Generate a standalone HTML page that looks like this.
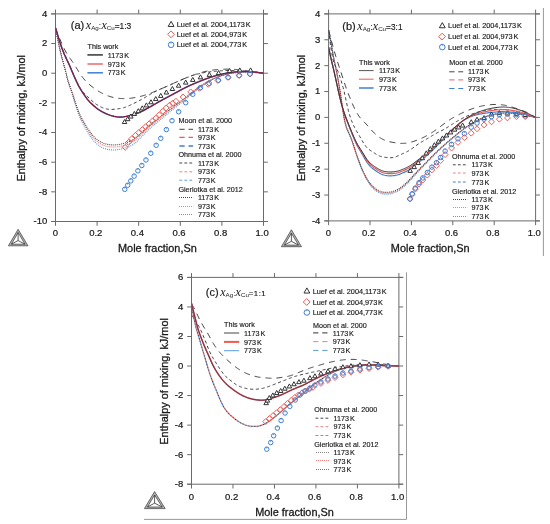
<!DOCTYPE html>
<html><head><meta charset="utf-8"><style>
html,body{margin:0;padding:0;background:#fff;}
svg{display:block;filter:blur(0.3px);}
text{font-family:"Liberation Sans", sans-serif;}
</style></head><body>
<svg width="550" height="524" viewBox="0 0 550 524" font-family='"Liberation Sans", sans-serif'>
<rect width="550" height="524" fill="#fff"/>
<clipPath id="ca"><rect x="55.5" y="13.9" width="208" height="207.6"/></clipPath>
<path d="M51.20,13.90H267.80M51.20,221.50H267.80M55.50,9.60V225.80M263.50,9.60V225.80" stroke="#6a6a6a" stroke-width="1" fill="none"/>
<path d="M97.10,9.60V13.90M97.10,221.50V225.80M138.70,9.60V13.90M138.70,221.50V225.80M180.30,9.60V13.90M180.30,221.50V225.80M221.90,9.60V13.90M221.90,221.50V225.80M51.20,221.50H55.50M263.50,221.50H267.80M51.20,191.84H55.50M263.50,191.84H267.80M51.20,162.19H55.50M263.50,162.19H267.80M51.20,132.53H55.50M263.50,132.53H267.80M51.20,102.87H55.50M263.50,102.87H267.80M51.20,73.21H55.50M263.50,73.21H267.80M51.20,43.56H55.50M263.50,43.56H267.80M51.20,13.90H55.50M263.50,13.90H267.80" stroke="#6a6a6a" stroke-width="1" fill="none"/>
<text x="55.30" y="235.90" font-size="9.5" text-anchor="middle" fill="#1a1a1a" stroke="#1a1a1a" stroke-width="0.22" >0</text>
<text x="95.80" y="235.90" font-size="9.5" text-anchor="middle" fill="#1a1a1a" stroke="#1a1a1a" stroke-width="0.22" >0.2</text>
<text x="137.40" y="235.90" font-size="9.5" text-anchor="middle" fill="#1a1a1a" stroke="#1a1a1a" stroke-width="0.22" >0.4</text>
<text x="179.00" y="235.90" font-size="9.5" text-anchor="middle" fill="#1a1a1a" stroke="#1a1a1a" stroke-width="0.22" >0.6</text>
<text x="220.60" y="235.90" font-size="9.5" text-anchor="middle" fill="#1a1a1a" stroke="#1a1a1a" stroke-width="0.22" >0.8</text>
<text x="262.20" y="235.90" font-size="9.5" text-anchor="middle" fill="#1a1a1a" stroke="#1a1a1a" stroke-width="0.22" >1.0</text>
<text x="47.30" y="224.40" font-size="9.5" text-anchor="end" fill="#1a1a1a" stroke="#1a1a1a" stroke-width="0.22" >-10</text>
<text x="47.30" y="194.74" font-size="9.5" text-anchor="end" fill="#1a1a1a" stroke="#1a1a1a" stroke-width="0.22" >-8</text>
<text x="47.30" y="165.09" font-size="9.5" text-anchor="end" fill="#1a1a1a" stroke="#1a1a1a" stroke-width="0.22" >-6</text>
<text x="47.30" y="135.43" font-size="9.5" text-anchor="end" fill="#1a1a1a" stroke="#1a1a1a" stroke-width="0.22" >-4</text>
<text x="47.30" y="105.77" font-size="9.5" text-anchor="end" fill="#1a1a1a" stroke="#1a1a1a" stroke-width="0.22" >-2</text>
<text x="47.30" y="76.11" font-size="9.5" text-anchor="end" fill="#1a1a1a" stroke="#1a1a1a" stroke-width="0.22" >0</text>
<text x="47.30" y="46.46" font-size="9.5" text-anchor="end" fill="#1a1a1a" stroke="#1a1a1a" stroke-width="0.22" >2</text>
<text x="47.30" y="16.80" font-size="9.5" text-anchor="end" fill="#1a1a1a" stroke="#1a1a1a" stroke-width="0.22" >4</text>
<text x="157.40" y="252.20" font-size="10.9" text-anchor="middle" fill="#1a1a1a" stroke="#1a1a1a" stroke-width="0.3" >Mole fraction,Sn</text>
<text transform="translate(24.90,118.30) rotate(-90)" x="0" y="0" font-size="10.9" text-anchor="middle" fill="#1a1a1a" stroke="#1a1a1a" stroke-width="0.3">Enthalpy of mixing, kJ/mol</text>
<text x="70.80" y="28.60" font-size="11" fill="#1a1a1a" stroke="#1a1a1a" stroke-width="0"><tspan stroke-width="0.2">(a)</tspan><tspan font-family="Liberation Serif" font-style="italic" font-size="12" dx="1.6" stroke-width="0">x</tspan><tspan font-size="6.2" dy="0.9">Ag</tspan><tspan font-size="8.4" dy="-0.9">:</tspan><tspan font-family="Liberation Serif" font-style="italic" font-size="12" dx="0.3" stroke-width="0">x</tspan><tspan font-size="6.2" dy="0.9">Cu</tspan><tspan font-size="8.4" dy="-0.9" stroke-width="0.15" letter-spacing="0">=1:3</tspan></text>
<g clip-path="url(#ca)">
<path d="M55.50,27.99 56.55,33.26 57.59,38.47 58.64,43.53 59.68,48.37 60.73,52.92 61.77,57.12 62.82,61.02 63.86,64.76 64.91,68.59 65.95,72.85 67.00,77.45 68.04,81.44 69.09,84.70 70.13,87.71 71.18,90.85 72.22,94.13 73.27,97.52 74.31,100.95 75.36,104.36 76.40,107.70 77.45,110.91 78.49,113.90 79.54,116.62 80.59,119.05 81.63,121.26 82.68,123.32 83.72,125.29 84.77,127.22 85.81,129.11 86.86,130.95 87.90,132.72 88.95,134.42 89.99,136.02 91.04,137.52 92.08,138.90 93.13,140.18 94.17,141.36 95.22,142.44 96.26,143.43 97.31,144.33 98.35,145.15 99.40,145.88 100.44,146.55 101.49,147.14 102.54,147.66 103.58,148.12 104.63,148.52 105.67,148.86 106.72,149.15 107.76,149.39 108.81,149.58 109.85,149.73 110.90,149.84 111.94,149.91 112.99,149.95 114.03,149.95 115.08,149.91 116.12,149.84 117.17,149.73 118.21,149.58 119.26,149.40 120.30,149.18 121.35,148.94 122.39,148.66 123.44,148.36 124.48,148.04 125.53,147.70 126.58,147.35 127.62,146.98 128.67,146.58 129.71,146.14 130.76,145.66 131.80,145.13 132.85,144.52 133.89,143.84 134.94,143.07 135.98,142.23 137.03,141.31 138.07,140.35 139.12,139.33 140.16,138.29 141.21,137.21 142.25,136.13 143.30,135.04 144.34,133.95 145.39,132.89 146.43,131.85 147.48,130.84 148.53,129.86 149.57,128.90 150.62,127.96 151.66,127.04 152.71,126.13 153.75,125.24 154.80,124.36 155.84,123.49 156.89,122.62 157.93,121.76 158.98,120.90 160.02,120.04 161.07,119.18 162.11,118.31 163.16,117.45 164.20,116.59 165.25,115.73 166.29,114.86 167.34,114.00 168.38,113.14 169.43,112.29 170.47,111.44 171.52,110.59 172.57,109.74 173.61,108.90 174.66,108.06 175.70,107.22 176.75,106.38 177.79,105.55 178.84,104.71 179.88,103.87 180.93,103.03 181.97,102.18 183.02,101.33 184.06,100.48 185.11,99.62 186.15,98.75 187.20,97.87 188.24,96.99 189.29,96.10 190.33,95.22 191.38,94.33 192.42,93.45 193.47,92.57 194.52,91.70 195.56,90.84 196.61,90.00 197.65,89.17 198.70,88.35 199.74,87.56 200.79,86.78 201.83,86.03 202.88,85.29 203.92,84.57 204.97,83.88 206.01,83.20 207.06,82.55 208.10,81.91 209.15,81.30 210.19,80.71 211.24,80.15 212.28,79.61 213.33,79.08 214.37,78.59 215.42,78.11 216.46,77.65 217.51,77.21 218.56,76.80 219.60,76.40 220.65,76.02 221.69,75.66 222.74,75.32 223.78,75.00 224.83,74.70 225.87,74.42 226.92,74.15 227.96,73.91 229.01,73.68 230.05,73.46 231.10,73.27 232.14,73.09 233.19,72.93 234.23,72.79 235.28,72.66 236.32,72.55 237.37,72.45 238.41,72.37 239.46,72.31 240.51,72.25 241.55,72.21 242.60,72.18 243.64,72.16 244.69,72.16 245.73,72.16 246.78,72.17 247.82,72.20 248.87,72.23 249.91,72.27 250.96,72.31 252.00,72.36 253.05,72.42 254.09,72.48 255.14,72.55 256.18,72.63 257.23,72.70 258.27,72.78 259.32,72.87 260.36,72.95 261.41,73.04 262.45,73.13 263.50,73.21" fill="none" stroke="#3f7fd6" stroke-width="1.1" stroke-dasharray="1 1" stroke-linecap="butt" opacity="0.85"/>
<path d="M55.50,27.99 56.55,33.27 57.59,38.48 58.64,43.54 59.68,48.38 60.73,52.92 61.77,57.11 62.82,61.01 63.86,64.77 64.91,68.62 65.95,72.83 67.00,77.29 68.04,81.14 69.09,84.27 70.13,87.16 71.18,90.18 72.22,93.35 73.27,96.61 74.31,99.91 75.36,103.20 76.40,106.42 77.45,109.50 78.49,112.38 79.54,114.99 80.59,117.34 81.63,119.47 82.68,121.45 83.72,123.34 84.77,125.20 85.81,127.02 86.86,128.79 87.90,130.50 88.95,132.13 89.99,133.67 91.04,135.11 92.08,136.45 93.13,137.68 94.17,138.81 95.22,139.85 96.26,140.80 97.31,141.67 98.35,142.46 99.40,143.17 100.44,143.80 101.49,144.37 102.54,144.88 103.58,145.32 104.63,145.70 105.67,146.03 106.72,146.31 107.76,146.54 108.81,146.72 109.85,146.87 110.90,146.97 111.94,147.04 112.99,147.08 114.03,147.08 115.08,147.04 116.12,146.97 117.17,146.87 118.21,146.73 119.26,146.55 120.30,146.34 121.35,146.11 122.39,145.84 123.44,145.55 124.48,145.24 125.53,144.92 126.58,144.58 127.62,144.22 128.67,143.84 129.71,143.42 130.76,142.96 131.80,142.44 132.85,141.85 133.89,141.20 134.94,140.46 135.98,139.65 137.03,138.77 138.07,137.84 139.12,136.86 140.16,135.85 141.21,134.82 142.25,133.77 143.30,132.73 144.34,131.68 145.39,130.66 146.43,129.66 147.48,128.69 148.53,127.74 149.57,126.82 150.62,125.91 151.66,125.03 152.71,124.16 153.75,123.30 154.80,122.45 155.84,121.61 156.89,120.78 157.93,119.95 158.98,119.12 160.02,118.29 161.07,117.46 162.11,116.63 163.16,115.80 164.20,114.97 165.25,114.14 166.29,113.31 167.34,112.48 168.38,111.65 169.43,110.83 170.47,110.01 171.52,109.19 172.57,108.37 173.61,107.56 174.66,106.75 175.70,105.95 176.75,105.14 177.79,104.34 178.84,103.53 179.88,102.72 180.93,101.91 181.97,101.10 183.02,100.28 184.06,99.46 185.11,98.63 186.15,97.80 187.20,96.95 188.24,96.10 189.29,95.25 190.33,94.39 191.38,93.54 192.42,92.69 193.47,91.85 194.52,91.01 195.56,90.18 196.61,89.37 197.65,88.57 198.70,87.79 199.74,87.02 200.79,86.28 201.83,85.55 202.88,84.84 203.92,84.15 204.97,83.48 206.01,82.83 207.06,82.20 208.10,81.59 209.15,81.00 210.19,80.43 211.24,79.89 212.28,79.37 213.33,78.87 214.37,78.39 215.42,77.92 216.46,77.48 217.51,77.06 218.56,76.66 219.60,76.28 220.65,75.92 221.69,75.57 222.74,75.25 223.78,74.94 224.83,74.64 225.87,74.37 226.92,74.11 227.96,73.88 229.01,73.65 230.05,73.45 231.10,73.26 232.14,73.09 233.19,72.93 234.23,72.79 235.28,72.66 236.32,72.55 237.37,72.46 238.41,72.38 239.46,72.31 240.51,72.26 241.55,72.22 242.60,72.19 243.64,72.17 244.69,72.16 245.73,72.16 246.78,72.17 247.82,72.20 248.87,72.23 249.91,72.26 250.96,72.31 252.00,72.36 253.05,72.42 254.09,72.48 255.14,72.55 256.18,72.62 257.23,72.70 258.27,72.78 259.32,72.86 260.36,72.95 261.41,73.04 262.45,73.13 263.50,73.21" fill="none" stroke="#ee5a52" stroke-width="1.1" stroke-dasharray="1 1" stroke-linecap="butt" opacity="0.85"/>
<path d="M55.50,27.99 56.55,33.27 57.59,38.48 58.64,43.54 59.68,48.38 60.73,52.93 61.77,57.11 62.82,61.01 63.86,64.78 64.91,68.64 65.95,72.81 67.00,77.17 68.04,80.91 69.09,83.95 70.13,86.76 71.18,89.69 72.22,92.76 73.27,95.93 74.31,99.13 75.36,102.32 76.40,105.45 77.45,108.44 78.49,111.24 79.54,113.78 80.59,116.05 81.63,118.12 82.68,120.05 83.72,121.88 84.77,123.69 85.81,125.45 86.86,127.17 87.90,128.83 88.95,130.41 89.99,131.91 91.04,133.31 92.08,134.60 93.13,135.80 94.17,136.90 95.22,137.91 96.26,138.83 97.31,139.68 98.35,140.44 99.40,141.13 100.44,141.75 101.49,142.30 102.54,142.79 103.58,143.22 104.63,143.59 105.67,143.91 106.72,144.18 107.76,144.40 108.81,144.58 109.85,144.72 110.90,144.83 111.94,144.89 112.99,144.93 114.03,144.93 115.08,144.89 116.12,144.82 117.17,144.72 118.21,144.59 119.26,144.42 120.30,144.21 121.35,143.98 122.39,143.73 123.44,143.45 124.48,143.15 125.53,142.83 126.58,142.50 127.62,142.15 128.67,141.78 129.71,141.37 130.76,140.92 131.80,140.42 132.85,139.86 133.89,139.22 134.94,138.50 135.98,137.71 137.03,136.86 138.07,135.96 139.12,135.01 140.16,134.03 141.21,133.03 142.25,132.01 143.30,130.99 144.34,129.98 145.39,128.99 146.43,128.02 147.48,127.07 148.53,126.15 149.57,125.26 150.62,124.38 151.66,123.52 152.71,122.67 153.75,121.84 154.80,121.02 155.84,120.20 156.89,119.39 157.93,118.59 158.98,117.78 160.02,116.98 161.07,116.17 162.11,115.36 163.16,114.56 164.20,113.75 165.25,112.94 166.29,112.14 167.34,111.33 168.38,110.53 169.43,109.73 170.47,108.94 171.52,108.14 172.57,107.35 173.61,106.56 174.66,105.78 175.70,104.99 176.75,104.21 177.79,103.43 178.84,102.65 179.88,101.86 180.93,101.08 181.97,100.29 183.02,99.49 184.06,98.70 185.11,97.89 186.15,97.08 187.20,96.26 188.24,95.44 189.29,94.61 190.33,93.78 191.38,92.95 192.42,92.12 193.47,91.30 194.52,90.49 195.56,89.69 196.61,88.90 197.65,88.12 198.70,87.36 199.74,86.62 200.79,85.90 201.83,85.19 202.88,84.50 203.92,83.83 204.97,83.18 206.01,82.55 207.06,81.94 208.10,81.34 209.15,80.77 210.19,80.22 211.24,79.70 212.28,79.19 213.33,78.70 214.37,78.24 215.42,77.79 216.46,77.36 217.51,76.95 218.56,76.56 219.60,76.19 220.65,75.84 221.69,75.50 222.74,75.19 223.78,74.89 224.83,74.60 225.87,74.34 226.92,74.09 227.96,73.85 229.01,73.63 230.05,73.43 231.10,73.25 232.14,73.08 233.19,72.93 234.23,72.79 235.28,72.66 236.32,72.56 237.37,72.46 238.41,72.38 239.46,72.32 240.51,72.26 241.55,72.22 242.60,72.19 243.64,72.17 244.69,72.16 245.73,72.16 246.78,72.17 247.82,72.20 248.87,72.22 249.91,72.26 250.96,72.31 252.00,72.36 253.05,72.42 254.09,72.48 255.14,72.55 256.18,72.62 257.23,72.70 258.27,72.78 259.32,72.86 260.36,72.95 261.41,73.04 262.45,73.13 263.50,73.21" fill="none" stroke="#444" stroke-width="1.1" stroke-dasharray="1 1" stroke-linecap="butt" opacity="1"/>
<path d="M55.50,27.99 56.55,31.28 57.59,34.54 58.64,37.75 59.68,40.89 60.73,43.92 61.77,46.83 62.82,49.58 63.86,52.17 64.91,54.63 65.95,57.00 67.00,59.32 68.04,61.64 69.09,64.00 70.13,66.43 71.18,68.92 72.22,71.43 73.27,73.93 74.31,76.37 75.36,78.74 76.40,81.01 77.45,83.14 78.49,85.13 79.54,86.94 80.59,88.59 81.63,90.09 82.68,91.46 83.72,92.71 84.77,93.87 85.81,94.94 86.86,95.97 87.90,96.96 88.95,97.94 89.99,98.93 91.04,99.91 92.08,100.88 93.13,101.81 94.17,102.69 95.22,103.51 96.26,104.27 97.31,104.96 98.35,105.60 99.40,106.19 100.44,106.74 101.49,107.23 102.54,107.69 103.58,108.10 104.63,108.45 105.67,108.76 106.72,109.00 107.76,109.20 108.81,109.33 109.85,109.40 110.90,109.42 111.94,109.41 112.99,109.35 114.03,109.27 115.08,109.16 116.12,109.04 117.17,108.91 118.21,108.78 119.26,108.63 120.30,108.47 121.35,108.28 122.39,108.06 123.44,107.80 124.48,107.49 125.53,107.13 126.58,106.73 127.62,106.30 128.67,105.84 129.71,105.36 130.76,104.88 131.80,104.39 132.85,103.89 133.89,103.39 134.94,102.88 135.98,102.37 137.03,101.84 138.07,101.31 139.12,100.76 140.16,100.21 141.21,99.64 142.25,99.06 143.30,98.47 144.34,97.87 145.39,97.25 146.43,96.63 147.48,96.01 148.53,95.39 149.57,94.76 150.62,94.15 151.66,93.54 152.71,92.94 153.75,92.36 154.80,91.79 155.84,91.24 156.89,90.71 157.93,90.21 158.98,89.72 160.02,89.26 161.07,88.81 162.11,88.36 163.16,87.93 164.20,87.50 165.25,87.07 166.29,86.64 167.34,86.20 168.38,85.75 169.43,85.30 170.47,84.83 171.52,84.36 172.57,83.88 173.61,83.40 174.66,82.92 175.70,82.43 176.75,81.95 177.79,81.47 178.84,80.99 179.88,80.52 180.93,80.05 181.97,79.60 183.02,79.15 184.06,78.72 185.11,78.29 186.15,77.87 187.20,77.47 188.24,77.07 189.29,76.68 190.33,76.31 191.38,75.95 192.42,75.59 193.47,75.26 194.52,74.93 195.56,74.62 196.61,74.32 197.65,74.04 198.70,73.77 199.74,73.52 200.79,73.28 201.83,73.06 202.88,72.86 203.92,72.67 204.97,72.50 206.01,72.34 207.06,72.19 208.10,72.05 209.15,71.91 210.19,71.79 211.24,71.68 212.28,71.57 213.33,71.46 214.37,71.36 215.42,71.26 216.46,71.16 217.51,71.07 218.56,70.98 219.60,70.90 220.65,70.83 221.69,70.76 222.74,70.70 223.78,70.64 224.83,70.59 225.87,70.55 226.92,70.52 227.96,70.50 229.01,70.48 230.05,70.47 231.10,70.48 232.14,70.48 233.19,70.50 234.23,70.52 235.28,70.55 236.32,70.59 237.37,70.64 238.41,70.69 239.46,70.74 240.51,70.81 241.55,70.88 242.60,70.95 243.64,71.03 244.69,71.12 245.73,71.21 246.78,71.31 247.82,71.40 248.87,71.51 249.91,71.61 250.96,71.72 252.00,71.84 253.05,71.95 254.09,72.07 255.14,72.19 256.18,72.32 257.23,72.44 258.27,72.57 259.32,72.70 260.36,72.82 261.41,72.95 262.45,73.08 263.50,73.21" fill="none" stroke="#444" stroke-width="1.0" stroke-dasharray="3.2 2.6" stroke-linecap="butt" opacity="1"/>
<path d="M55.50,27.99 56.55,30.67 57.59,33.34 58.64,35.97 59.68,38.55 60.73,41.07 61.77,43.50 62.82,45.83 63.86,48.03 64.91,50.11 65.95,52.03 67.00,53.79 68.04,55.43 69.09,56.98 70.13,58.47 71.18,59.93 72.22,61.39 73.27,62.89 74.31,64.46 75.36,66.12 76.40,67.83 77.45,69.57 78.49,71.30 79.54,72.98 80.59,74.59 81.63,76.08 82.68,77.48 83.72,78.78 84.77,79.99 85.81,81.12 86.86,82.18 87.90,83.18 88.95,84.12 89.99,85.02 91.04,85.88 92.08,86.70 93.13,87.50 94.17,88.28 95.22,89.02 96.26,89.74 97.31,90.44 98.35,91.11 99.40,91.74 100.44,92.35 101.49,92.93 102.54,93.48 103.58,94.00 104.63,94.49 105.67,94.95 106.72,95.38 107.76,95.78 108.81,96.15 109.85,96.49 110.90,96.81 111.94,97.10 112.99,97.36 114.03,97.59 115.08,97.80 116.12,97.99 117.17,98.15 118.21,98.29 119.26,98.40 120.30,98.48 121.35,98.55 122.39,98.59 123.44,98.61 124.48,98.61 125.53,98.58 126.58,98.54 127.62,98.48 128.67,98.40 129.71,98.30 130.76,98.19 131.80,98.06 132.85,97.92 133.89,97.76 134.94,97.58 135.98,97.39 137.03,97.19 138.07,96.96 139.12,96.73 140.16,96.48 141.21,96.21 142.25,95.92 143.30,95.63 144.34,95.31 145.39,94.99 146.43,94.64 147.48,94.29 148.53,93.92 149.57,93.55 150.62,93.16 151.66,92.76 152.71,92.35 153.75,91.93 154.80,91.51 155.84,91.08 156.89,90.64 157.93,90.20 158.98,89.75 160.02,89.30 161.07,88.84 162.11,88.39 163.16,87.92 164.20,87.46 165.25,86.99 166.29,86.53 167.34,86.06 168.38,85.59 169.43,85.12 170.47,84.65 171.52,84.18 172.57,83.71 173.61,83.24 174.66,82.77 175.70,82.31 176.75,81.84 177.79,81.38 178.84,80.92 179.88,80.47 180.93,80.02 181.97,79.57 183.02,79.13 184.06,78.69 185.11,78.26 186.15,77.83 187.20,77.41 188.24,77.00 189.29,76.59 190.33,76.19 191.38,75.80 192.42,75.42 193.47,75.04 194.52,74.68 195.56,74.32 196.61,73.97 197.65,73.64 198.70,73.31 199.74,72.99 200.79,72.69 201.83,72.39 202.88,72.11 203.92,71.84 204.97,71.58 206.01,71.33 207.06,71.10 208.10,70.88 209.15,70.67 210.19,70.48 211.24,70.30 212.28,70.13 213.33,69.99 214.37,69.85 215.42,69.73 216.46,69.63 217.51,69.54 218.56,69.46 219.60,69.39 220.65,69.34 221.69,69.29 222.74,69.25 223.78,69.22 224.83,69.19 225.87,69.17 226.92,69.16 227.96,69.15 229.01,69.16 230.05,69.17 231.10,69.20 232.14,69.24 233.19,69.29 234.23,69.35 235.28,69.43 236.32,69.51 237.37,69.61 238.41,69.73 239.46,69.84 240.51,69.97 241.55,70.11 242.60,70.24 243.64,70.39 244.69,70.53 245.73,70.68 246.78,70.83 247.82,70.97 248.87,71.12 249.91,71.27 250.96,71.42 252.00,71.57 253.05,71.72 254.09,71.87 255.14,72.02 256.18,72.17 257.23,72.32 258.27,72.47 259.32,72.62 260.36,72.77 261.41,72.92 262.45,73.07 263.50,73.21" fill="none" stroke="#444" stroke-width="1.0" stroke-dasharray="6 5" stroke-linecap="butt" opacity="1"/>
<path d="M55.50,27.99 56.55,31.46 57.59,34.91 58.64,38.30 59.68,41.58 60.73,44.75 61.77,47.76 62.82,50.57 63.86,53.19 64.91,55.63 65.95,57.90 67.00,60.07 68.04,62.22 69.09,64.45 70.13,66.85 71.18,69.35 72.22,71.88 73.27,74.34 74.31,76.72 75.36,79.05 76.40,81.32 77.45,83.52 78.49,85.60 79.54,87.53 80.59,89.30 81.63,90.96 82.68,92.57 83.72,94.15 84.77,95.68 85.81,97.16 86.86,98.56 87.90,99.88 88.95,101.11 89.99,102.24 91.04,103.30 92.08,104.28 93.13,105.23 94.17,106.14 95.22,107.02 96.26,107.87 97.31,108.66 98.35,109.40 99.40,110.10 100.44,110.75 101.49,111.37 102.54,111.95 103.58,112.49 104.63,113.01 105.67,113.50 106.72,113.95 107.76,114.38 108.81,114.78 109.85,115.15 110.90,115.49 111.94,115.80 112.99,116.08 114.03,116.34 115.08,116.56 116.12,116.76 117.17,116.91 118.21,117.02 119.26,117.09 120.30,117.11 121.35,117.07 122.39,116.99 123.44,116.86 124.48,116.70 125.53,116.51 126.58,116.29 127.62,116.04 128.67,115.78 129.71,115.51 130.76,115.22 131.80,114.92 132.85,114.62 133.89,114.32 134.94,114.01 135.98,113.68 137.03,113.33 138.07,112.96 139.12,112.56 140.16,112.12 141.21,111.64 142.25,111.13 143.30,110.60 144.34,110.04 145.39,109.47 146.43,108.90 147.48,108.32 148.53,107.74 149.57,107.15 150.62,106.57 151.66,105.98 152.71,105.38 153.75,104.78 154.80,104.18 155.84,103.58 156.89,102.97 157.93,102.37 158.98,101.77 160.02,101.18 161.07,100.60 162.11,100.03 163.16,99.46 164.20,98.90 165.25,98.35 166.29,97.79 167.34,97.24 168.38,96.68 169.43,96.12 170.47,95.57 171.52,95.01 172.57,94.44 173.61,93.88 174.66,93.31 175.70,92.75 176.75,92.18 177.79,91.61 178.84,91.05 179.88,90.49 180.93,89.93 181.97,89.38 183.02,88.84 184.06,88.30 185.11,87.77 186.15,87.25 187.20,86.74 188.24,86.24 189.29,85.76 190.33,85.28 191.38,84.81 192.42,84.35 193.47,83.90 194.52,83.46 195.56,83.02 196.61,82.59 197.65,82.16 198.70,81.74 199.74,81.31 200.79,80.90 201.83,80.48 202.88,80.07 203.92,79.67 204.97,79.27 206.01,78.89 207.06,78.50 208.10,78.13 209.15,77.76 210.19,77.41 211.24,77.06 212.28,76.72 213.33,76.40 214.37,76.08 215.42,75.77 216.46,75.47 217.51,75.19 218.56,74.91 219.60,74.65 220.65,74.40 221.69,74.15 222.74,73.92 223.78,73.70 224.83,73.49 225.87,73.29 226.92,73.10 227.96,72.92 229.01,72.75 230.05,72.59 231.10,72.44 232.14,72.29 233.19,72.16 234.23,72.03 235.28,71.91 236.32,71.81 237.37,71.72 238.41,71.63 239.46,71.56 240.51,71.51 241.55,71.47 242.60,71.44 243.64,71.42 244.69,71.42 245.73,71.44 246.78,71.46 247.82,71.50 248.87,71.55 249.91,71.62 250.96,71.69 252.00,71.78 253.05,71.87 254.09,71.98 255.14,72.10 256.18,72.22 257.23,72.35 258.27,72.48 259.32,72.62 260.36,72.77 261.41,72.91 262.45,73.06 263.50,73.21" fill="none" stroke="#3f7fd6" stroke-width="1.5" stroke-linecap="butt" opacity="1"/>
<path d="M55.50,27.99 56.55,31.46 57.59,34.91 58.64,38.30 59.68,41.58 60.73,44.75 61.77,47.76 62.82,50.57 63.86,53.19 64.91,55.63 65.95,57.90 67.00,60.07 68.04,62.22 69.09,64.45 70.13,66.85 71.18,69.35 72.22,71.88 73.27,74.34 74.31,76.72 75.36,79.05 76.40,81.32 77.45,83.52 78.49,85.60 79.54,87.53 80.59,89.30 81.63,90.96 82.68,92.57 83.72,94.15 84.77,95.68 85.81,97.16 86.86,98.56 87.90,99.88 88.95,101.11 89.99,102.24 91.04,103.30 92.08,104.28 93.13,105.23 94.17,106.14 95.22,107.02 96.26,107.87 97.31,108.66 98.35,109.40 99.40,110.10 100.44,110.75 101.49,111.37 102.54,111.95 103.58,112.49 104.63,113.01 105.67,113.50 106.72,113.95 107.76,114.38 108.81,114.78 109.85,115.15 110.90,115.49 111.94,115.80 112.99,116.08 114.03,116.34 115.08,116.56 116.12,116.76 117.17,116.91 118.21,117.02 119.26,117.09 120.30,117.11 121.35,117.07 122.39,116.99 123.44,116.86 124.48,116.70 125.53,116.51 126.58,116.29 127.62,116.04 128.67,115.78 129.71,115.51 130.76,115.22 131.80,114.92 132.85,114.62 133.89,114.32 134.94,114.01 135.98,113.68 137.03,113.33 138.07,112.96 139.12,112.56 140.16,112.12 141.21,111.64 142.25,111.13 143.30,110.60 144.34,110.04 145.39,109.47 146.43,108.90 147.48,108.32 148.53,107.74 149.57,107.15 150.62,106.57 151.66,105.98 152.71,105.38 153.75,104.78 154.80,104.18 155.84,103.58 156.89,102.97 157.93,102.37 158.98,101.77 160.02,101.18 161.07,100.60 162.11,100.03 163.16,99.46 164.20,98.90 165.25,98.35 166.29,97.79 167.34,97.24 168.38,96.68 169.43,96.12 170.47,95.57 171.52,95.01 172.57,94.44 173.61,93.88 174.66,93.31 175.70,92.75 176.75,92.18 177.79,91.61 178.84,91.05 179.88,90.49 180.93,89.93 181.97,89.38 183.02,88.84 184.06,88.30 185.11,87.77 186.15,87.25 187.20,86.74 188.24,86.24 189.29,85.76 190.33,85.28 191.38,84.81 192.42,84.35 193.47,83.90 194.52,83.46 195.56,83.02 196.61,82.59 197.65,82.16 198.70,81.74 199.74,81.31 200.79,80.90 201.83,80.48 202.88,80.07 203.92,79.67 204.97,79.27 206.01,78.89 207.06,78.50 208.10,78.13 209.15,77.76 210.19,77.41 211.24,77.06 212.28,76.72 213.33,76.40 214.37,76.08 215.42,75.77 216.46,75.47 217.51,75.19 218.56,74.91 219.60,74.65 220.65,74.40 221.69,74.15 222.74,73.92 223.78,73.70 224.83,73.49 225.87,73.29 226.92,73.10 227.96,72.92 229.01,72.75 230.05,72.59 231.10,72.44 232.14,72.29 233.19,72.16 234.23,72.03 235.28,71.91 236.32,71.81 237.37,71.72 238.41,71.63 239.46,71.56 240.51,71.51 241.55,71.47 242.60,71.44 243.64,71.42 244.69,71.42 245.73,71.44 246.78,71.46 247.82,71.50 248.87,71.55 249.91,71.62 250.96,71.69 252.00,71.78 253.05,71.87 254.09,71.98 255.14,72.10 256.18,72.22 257.23,72.35 258.27,72.48 259.32,72.62 260.36,72.77 261.41,72.91 262.45,73.06 263.50,73.21" fill="none" stroke="#8a1a3a" stroke-width="1.2" stroke-linecap="butt" opacity="1"/>
</g>
<path d="M124.56,119.50L126.84,123.54H122.28Z" fill="#fff" fill-opacity="0.85" stroke="#333" stroke-width="1.0" stroke-linejoin="round"/>
<path d="M127.68,116.63L129.96,120.67H125.40Z" fill="#fff" fill-opacity="0.85" stroke="#333" stroke-width="1.0" stroke-linejoin="round"/>
<path d="M130.80,114.02L133.08,118.06H128.52Z" fill="#fff" fill-opacity="0.85" stroke="#333" stroke-width="1.0" stroke-linejoin="round"/>
<path d="M134.33,111.42L136.61,115.46H132.05Z" fill="#fff" fill-opacity="0.85" stroke="#333" stroke-width="1.0" stroke-linejoin="round"/>
<path d="M138.28,108.68L140.56,112.72H136.00Z" fill="#fff" fill-opacity="0.85" stroke="#333" stroke-width="1.0" stroke-linejoin="round"/>
<path d="M142.24,105.84L144.52,109.89H139.96Z" fill="#fff" fill-opacity="0.85" stroke="#333" stroke-width="1.0" stroke-linejoin="round"/>
<path d="M146.40,102.89L148.68,106.94H144.12Z" fill="#fff" fill-opacity="0.85" stroke="#333" stroke-width="1.0" stroke-linejoin="round"/>
<path d="M150.97,99.72L153.25,103.76H148.69Z" fill="#fff" fill-opacity="0.85" stroke="#333" stroke-width="1.0" stroke-linejoin="round"/>
<path d="M155.76,96.52L158.04,100.56H153.48Z" fill="#fff" fill-opacity="0.85" stroke="#333" stroke-width="1.0" stroke-linejoin="round"/>
<path d="M160.75,93.36L163.03,97.41H158.47Z" fill="#fff" fill-opacity="0.85" stroke="#333" stroke-width="1.0" stroke-linejoin="round"/>
<path d="M166.36,89.99L168.64,94.04H164.08Z" fill="#fff" fill-opacity="0.85" stroke="#333" stroke-width="1.0" stroke-linejoin="round"/>
<path d="M172.40,86.47L174.68,90.51H170.12Z" fill="#fff" fill-opacity="0.85" stroke="#333" stroke-width="1.0" stroke-linejoin="round"/>
<path d="M178.64,83.17L180.92,87.21H176.36Z" fill="#fff" fill-opacity="0.85" stroke="#333" stroke-width="1.0" stroke-linejoin="round"/>
<path d="M185.71,80.06L187.99,84.10H183.43Z" fill="#fff" fill-opacity="0.85" stroke="#333" stroke-width="1.0" stroke-linejoin="round"/>
<path d="M192.78,77.39L195.06,81.43H190.50Z" fill="#fff" fill-opacity="0.85" stroke="#333" stroke-width="1.0" stroke-linejoin="round"/>
<path d="M200.48,74.82L202.76,78.86H198.20Z" fill="#fff" fill-opacity="0.85" stroke="#333" stroke-width="1.0" stroke-linejoin="round"/>
<path d="M209.42,72.35L211.70,76.39H207.14Z" fill="#fff" fill-opacity="0.85" stroke="#333" stroke-width="1.0" stroke-linejoin="round"/>
<path d="M218.57,70.57L220.85,74.61H216.29Z" fill="#fff" fill-opacity="0.85" stroke="#333" stroke-width="1.0" stroke-linejoin="round"/>
<path d="M229.60,68.49L231.88,72.53H227.32Z" fill="#fff" fill-opacity="0.85" stroke="#333" stroke-width="1.0" stroke-linejoin="round"/>
<path d="M239.79,67.90L242.07,71.94H237.51Z" fill="#fff" fill-opacity="0.85" stroke="#333" stroke-width="1.0" stroke-linejoin="round"/>
<path d="M250.60,67.90L252.88,71.94H248.32Z" fill="#fff" fill-opacity="0.85" stroke="#333" stroke-width="1.0" stroke-linejoin="round"/>
<path d="M125.18,144.41L128.13,147.36L125.18,150.31L122.23,147.36Z" fill="none" stroke="#ee5a52" stroke-width="1.0"/>
<path d="M128.51,139.40L131.46,142.35L128.51,145.30L125.56,142.35Z" fill="none" stroke="#ee5a52" stroke-width="1.0"/>
<path d="M131.84,135.70L134.79,138.65L131.84,141.60L128.89,138.65Z" fill="none" stroke="#ee5a52" stroke-width="1.0"/>
<path d="M135.37,132.42L138.32,135.37L135.37,138.32L132.42,135.37Z" fill="none" stroke="#ee5a52" stroke-width="1.0"/>
<path d="M138.70,129.64L141.65,132.59L138.70,135.54L135.75,132.59Z" fill="none" stroke="#ee5a52" stroke-width="1.0"/>
<path d="M142.24,126.68L145.19,129.63L142.24,132.58L139.29,129.63Z" fill="none" stroke="#ee5a52" stroke-width="1.0"/>
<path d="M145.56,123.80L148.51,126.75L145.56,129.70L142.61,126.75Z" fill="none" stroke="#ee5a52" stroke-width="1.0"/>
<path d="M149.10,120.83L152.05,123.78L149.10,126.73L146.15,123.78Z" fill="none" stroke="#ee5a52" stroke-width="1.0"/>
<path d="M152.43,118.03L155.38,120.98L152.43,123.93L149.48,120.98Z" fill="none" stroke="#ee5a52" stroke-width="1.0"/>
<path d="M155.76,115.16L158.71,118.11L155.76,121.06L152.81,118.11Z" fill="none" stroke="#ee5a52" stroke-width="1.0"/>
<path d="M159.29,111.84L162.24,114.79L159.29,117.74L156.34,114.79Z" fill="none" stroke="#ee5a52" stroke-width="1.0"/>
<path d="M162.83,108.28L165.78,111.23L162.83,114.18L159.88,111.23Z" fill="none" stroke="#ee5a52" stroke-width="1.0"/>
<path d="M166.16,105.06L169.11,108.01L166.16,110.96L163.21,108.01Z" fill="none" stroke="#ee5a52" stroke-width="1.0"/>
<path d="M169.48,102.29L172.43,105.24L169.48,108.19L166.53,105.24Z" fill="none" stroke="#ee5a52" stroke-width="1.0"/>
<path d="M172.60,100.26L175.55,103.21L172.60,106.16L169.65,103.21Z" fill="none" stroke="#ee5a52" stroke-width="1.0"/>
<path d="M175.93,98.29L178.88,101.24L175.93,104.19L172.98,101.24Z" fill="none" stroke="#ee5a52" stroke-width="1.0"/>
<path d="M183.00,93.99L185.95,96.94L183.00,99.89L180.05,96.94Z" fill="none" stroke="#ee5a52" stroke-width="1.0"/>
<path d="M190.70,88.95L193.65,91.90L190.70,94.85L187.75,91.90Z" fill="none" stroke="#ee5a52" stroke-width="1.0"/>
<path d="M199.44,85.39L202.39,88.34L199.44,91.29L196.49,88.34Z" fill="none" stroke="#ee5a52" stroke-width="1.0"/>
<path d="M208.17,81.39L211.12,84.34L208.17,87.29L205.22,84.34Z" fill="none" stroke="#ee5a52" stroke-width="1.0"/>
<path d="M217.95,77.53L220.90,80.48L217.95,83.43L215.00,80.48Z" fill="none" stroke="#ee5a52" stroke-width="1.0"/>
<path d="M228.14,74.42L231.09,77.37L228.14,80.32L225.19,77.37Z" fill="none" stroke="#ee5a52" stroke-width="1.0"/>
<path d="M239.16,72.49L242.11,75.44L239.16,78.39L236.21,75.44Z" fill="none" stroke="#ee5a52" stroke-width="1.0"/>
<path d="M249.98,71.01L252.93,73.96L249.98,76.91L247.03,73.96Z" fill="none" stroke="#ee5a52" stroke-width="1.0"/>
<circle cx="124.76" cy="189.32" r="2.25" fill="none" stroke="#3f7fd6" stroke-width="1.0"/><path d="M124.76,187.07V188.67" stroke="#3f7fd6" stroke-width="0.8"/>
<circle cx="127.68" cy="185.26" r="2.25" fill="none" stroke="#3f7fd6" stroke-width="1.0"/><path d="M127.68,183.01V184.61" stroke="#3f7fd6" stroke-width="0.8"/>
<circle cx="130.80" cy="180.87" r="2.25" fill="none" stroke="#3f7fd6" stroke-width="1.0"/><path d="M130.80,178.62V180.22" stroke="#3f7fd6" stroke-width="0.8"/>
<circle cx="134.12" cy="176.10" r="2.25" fill="none" stroke="#3f7fd6" stroke-width="1.0"/><path d="M134.12,173.85V175.45" stroke="#3f7fd6" stroke-width="0.8"/>
<circle cx="137.87" cy="170.79" r="2.25" fill="none" stroke="#3f7fd6" stroke-width="1.0"/><path d="M137.87,168.54V170.14" stroke="#3f7fd6" stroke-width="0.8"/>
<circle cx="141.82" cy="165.51" r="2.25" fill="none" stroke="#3f7fd6" stroke-width="1.0"/><path d="M141.82,163.26V164.86" stroke="#3f7fd6" stroke-width="0.8"/>
<circle cx="145.98" cy="159.96" r="2.25" fill="none" stroke="#3f7fd6" stroke-width="1.0"/><path d="M145.98,157.71V159.31" stroke="#3f7fd6" stroke-width="0.8"/>
<circle cx="150.76" cy="153.21" r="2.25" fill="none" stroke="#3f7fd6" stroke-width="1.0"/><path d="M150.76,150.96V152.56" stroke="#3f7fd6" stroke-width="0.8"/>
<circle cx="156.17" cy="145.28" r="2.25" fill="none" stroke="#3f7fd6" stroke-width="1.0"/><path d="M156.17,143.03V144.63" stroke="#3f7fd6" stroke-width="0.8"/>
<circle cx="160.75" cy="138.32" r="2.25" fill="none" stroke="#3f7fd6" stroke-width="1.0"/><path d="M160.75,136.07V137.67" stroke="#3f7fd6" stroke-width="0.8"/>
<circle cx="166.36" cy="129.56" r="2.25" fill="none" stroke="#3f7fd6" stroke-width="1.0"/><path d="M166.36,127.31V128.91" stroke="#3f7fd6" stroke-width="0.8"/>
<circle cx="171.98" cy="120.67" r="2.25" fill="none" stroke="#3f7fd6" stroke-width="1.0"/><path d="M171.98,118.42V120.02" stroke="#3f7fd6" stroke-width="0.8"/>
<circle cx="178.64" cy="111.77" r="2.25" fill="none" stroke="#3f7fd6" stroke-width="1.0"/><path d="M178.64,109.52V111.12" stroke="#3f7fd6" stroke-width="0.8"/>
<circle cx="185.71" cy="102.72" r="2.25" fill="none" stroke="#3f7fd6" stroke-width="1.0"/><path d="M185.71,100.47V102.07" stroke="#3f7fd6" stroke-width="0.8"/>
<circle cx="192.78" cy="94.27" r="2.25" fill="none" stroke="#3f7fd6" stroke-width="1.0"/><path d="M192.78,92.02V93.62" stroke="#3f7fd6" stroke-width="0.8"/>
<circle cx="200.48" cy="87.75" r="2.25" fill="none" stroke="#3f7fd6" stroke-width="1.0"/><path d="M200.48,85.50V87.10" stroke="#3f7fd6" stroke-width="0.8"/>
<circle cx="209.21" cy="83.30" r="2.25" fill="none" stroke="#3f7fd6" stroke-width="1.0"/><path d="M209.21,81.05V82.65" stroke="#3f7fd6" stroke-width="0.8"/>
<circle cx="218.36" cy="80.18" r="2.25" fill="none" stroke="#3f7fd6" stroke-width="1.0"/><path d="M218.36,77.93V79.53" stroke="#3f7fd6" stroke-width="0.8"/>
<circle cx="228.14" cy="77.37" r="2.25" fill="none" stroke="#3f7fd6" stroke-width="1.0"/><path d="M228.14,75.12V76.72" stroke="#3f7fd6" stroke-width="0.8"/>
<circle cx="239.16" cy="75.44" r="2.25" fill="none" stroke="#3f7fd6" stroke-width="1.0"/><path d="M239.16,73.19V74.79" stroke="#3f7fd6" stroke-width="0.8"/>
<circle cx="249.98" cy="73.96" r="2.25" fill="none" stroke="#3f7fd6" stroke-width="1.0"/><path d="M249.98,71.71V73.31" stroke="#3f7fd6" stroke-width="0.8"/>
<text x="87.60" y="49.00" font-size="7.2" text-anchor="start" fill="#1a1a1a" stroke="#1a1a1a" stroke-width="0.15" >This work</text>
<path d="M87.40,54.90H102.90" stroke="#555" stroke-width="1.8"/>
<text x="107.80" y="57.50" font-size="7.2" text-anchor="start" fill="#1a1a1a" stroke="#1a1a1a" stroke-width="0.15" >1173<tspan dx="0.9">K</tspan></text>
<path d="M87.40,64.00H102.90" stroke="#f08080" stroke-width="1.8"/>
<text x="107.80" y="66.60" font-size="7.2" text-anchor="start" fill="#1a1a1a" stroke="#1a1a1a" stroke-width="0.15" >973<tspan dx="0.9">K</tspan></text>
<path d="M87.40,72.80H102.90" stroke="#3f7fd6" stroke-width="1.5"/>
<text x="107.80" y="75.40" font-size="7.2" text-anchor="start" fill="#1a1a1a" stroke="#1a1a1a" stroke-width="0.15" >773<tspan dx="0.9">K</tspan></text>
<path d="M171.10,21.30L174.01,26.46H168.19Z" fill="#fff" fill-opacity="0.85" stroke="#333" stroke-width="1.0" stroke-linejoin="round"/>
<text x="176.80" y="26.90" font-size="7.3" text-anchor="start" fill="#1a1a1a" stroke="#1a1a1a" stroke-width="0.15" >Luef et al. 2004,1173<tspan dx="0.9">K</tspan></text>
<path d="M171.00,30.90L174.40,34.30L171.00,37.70L167.60,34.30Z" fill="none" stroke="#ee5a52" stroke-width="1.0"/>
<text x="176.80" y="36.90" font-size="7.3" text-anchor="start" fill="#1a1a1a" stroke="#1a1a1a" stroke-width="0.15" >Luef et al. 2004,973<tspan dx="0.9">K</tspan></text>
<circle cx="171.10" cy="44.80" r="2.8" fill="none" stroke="#3f7fd6" stroke-width="1.0"/><path d="M171.10,42.00V43.60" stroke="#3f7fd6" stroke-width="0.8"/>
<text x="176.80" y="47.40" font-size="7.3" text-anchor="start" fill="#1a1a1a" stroke="#1a1a1a" stroke-width="0.15" >Luef et al. 2004,773<tspan dx="0.9">K</tspan></text>
<text x="178.40" y="122.70" font-size="7.2" text-anchor="start" fill="#1a1a1a" stroke="#1a1a1a" stroke-width="0.15" >Moon et al. 2000</text>
<path d="M179.40,129.30H193.10" stroke="#444" stroke-width="1" stroke-dasharray="5.3 3.8"/>
<text x="197.90" y="131.90" font-size="7.2" text-anchor="start" fill="#1a1a1a" stroke="#1a1a1a" stroke-width="0.15" >1173<tspan dx="0.9">K</tspan></text>
<path d="M179.40,137.30H193.10" stroke="#ee5a52" stroke-width="1.2" stroke-dasharray="5.3 3.8"/>
<text x="197.90" y="139.90" font-size="7.2" text-anchor="start" fill="#1a1a1a" stroke="#1a1a1a" stroke-width="0.15" >973<tspan dx="0.9">K</tspan></text>
<path d="M179.40,146.10H193.10" stroke="#3f7fd6" stroke-width="1.5" stroke-dasharray="5.3 3.8"/>
<text x="197.90" y="148.70" font-size="7.2" text-anchor="start" fill="#1a1a1a" stroke="#1a1a1a" stroke-width="0.15" >773<tspan dx="0.9">K</tspan></text>
<text x="178.40" y="157.00" font-size="7.2" text-anchor="start" fill="#1a1a1a" stroke="#1a1a1a" stroke-width="0.15" >Ohnuma et al. 2000</text>
<path d="M179.40,163.00H193.10" stroke="#444" stroke-width="1" stroke-dasharray="2.8 2.2"/>
<text x="197.90" y="165.60" font-size="7.2" text-anchor="start" fill="#1a1a1a" stroke="#1a1a1a" stroke-width="0.15" >1173<tspan dx="0.9">K</tspan></text>
<path d="M179.40,171.80H193.10" stroke="#f08080" stroke-width="1" stroke-dasharray="2.8 2.2"/>
<text x="197.90" y="174.40" font-size="7.2" text-anchor="start" fill="#1a1a1a" stroke="#1a1a1a" stroke-width="0.15" >973<tspan dx="0.9">K</tspan></text>
<path d="M179.40,180.20H193.10" stroke="#5a9ae0" stroke-width="1" stroke-dasharray="2.8 2.2"/>
<text x="197.90" y="182.80" font-size="7.2" text-anchor="start" fill="#1a1a1a" stroke="#1a1a1a" stroke-width="0.15" >773<tspan dx="0.9">K</tspan></text>
<text x="178.40" y="191.80" font-size="7.2" text-anchor="start" fill="#1a1a1a" stroke="#1a1a1a" stroke-width="0.15" >Gierlotka et al. 2012</text>
<path d="M179.00,197.50H193.10" stroke="#444" stroke-width="1" stroke-dasharray="1 1"/>
<text x="197.90" y="199.60" font-size="7.2" text-anchor="start" fill="#1a1a1a" stroke="#1a1a1a" stroke-width="0.15" >1173<tspan dx="0.9">K</tspan></text>
<path d="M179.00,206.50H193.10" stroke="#f08080" stroke-width="1.2" stroke-dasharray="1 1"/>
<text x="197.90" y="208.60" font-size="7.2" text-anchor="start" fill="#1a1a1a" stroke="#1a1a1a" stroke-width="0.15" >973<tspan dx="0.9">K</tspan></text>
<path d="M179.00,214.50H193.10" stroke="#5a9ae0" stroke-width="1" stroke-dasharray="1 1"/>
<text x="197.90" y="216.80" font-size="7.2" text-anchor="start" fill="#1a1a1a" stroke="#1a1a1a" stroke-width="0.15" >773<tspan dx="0.9">K</tspan></text>
<path d="M18.10,229.30L8.40,245.80L28.00,245.80ZM18.10,232.60L25.00,244.20L11.40,244.20Z" fill="#b4b4b4" fill-rule="evenodd" stroke="#3a3a3a" stroke-width="0.7" stroke-linejoin="round"/>
<path d="M18.10,240.52L18.10,232.60M18.10,240.52L11.40,244.20M18.10,240.52L25.00,244.20" stroke="#333" stroke-width="0.8"/>
<clipPath id="cb"><rect x="328.6" y="13.9" width="207" height="207"/></clipPath>
<path d="M324.30,13.90H539.90M324.30,220.90H539.90M328.60,9.60V225.20M535.60,9.60V225.20" stroke="#6a6a6a" stroke-width="1" fill="none"/>
<path d="M370.00,9.60V13.90M370.00,220.90V225.20M411.40,9.60V13.90M411.40,220.90V225.20M452.80,9.60V13.90M452.80,220.90V225.20M494.20,9.60V13.90M494.20,220.90V225.20M324.30,220.90H328.60M535.60,220.90H539.90M324.30,195.03H328.60M535.60,195.03H539.90M324.30,169.15H328.60M535.60,169.15H539.90M324.30,143.28H328.60M535.60,143.28H539.90M324.30,117.40H328.60M535.60,117.40H539.90M324.30,91.53H328.60M535.60,91.53H539.90M324.30,65.65H328.60M535.60,65.65H539.90M324.30,39.78H328.60M535.60,39.78H539.90M324.30,13.90H328.60M535.60,13.90H539.90" stroke="#6a6a6a" stroke-width="1" fill="none"/>
<text x="328.40" y="235.60" font-size="9.5" text-anchor="middle" fill="#1a1a1a" stroke="#1a1a1a" stroke-width="0.22" >0</text>
<text x="368.70" y="235.60" font-size="9.5" text-anchor="middle" fill="#1a1a1a" stroke="#1a1a1a" stroke-width="0.22" >0.2</text>
<text x="410.10" y="235.60" font-size="9.5" text-anchor="middle" fill="#1a1a1a" stroke="#1a1a1a" stroke-width="0.22" >0.4</text>
<text x="451.50" y="235.60" font-size="9.5" text-anchor="middle" fill="#1a1a1a" stroke="#1a1a1a" stroke-width="0.22" >0.6</text>
<text x="492.90" y="235.60" font-size="9.5" text-anchor="middle" fill="#1a1a1a" stroke="#1a1a1a" stroke-width="0.22" >0.8</text>
<text x="534.30" y="235.60" font-size="9.5" text-anchor="middle" fill="#1a1a1a" stroke="#1a1a1a" stroke-width="0.22" >1.0</text>
<text x="320.40" y="223.80" font-size="9.5" text-anchor="end" fill="#1a1a1a" stroke="#1a1a1a" stroke-width="0.22" >-4</text>
<text x="320.40" y="197.93" font-size="9.5" text-anchor="end" fill="#1a1a1a" stroke="#1a1a1a" stroke-width="0.22" >-3</text>
<text x="320.40" y="172.05" font-size="9.5" text-anchor="end" fill="#1a1a1a" stroke="#1a1a1a" stroke-width="0.22" >-2</text>
<text x="320.40" y="146.18" font-size="9.5" text-anchor="end" fill="#1a1a1a" stroke="#1a1a1a" stroke-width="0.22" >-1</text>
<text x="320.40" y="120.30" font-size="9.5" text-anchor="end" fill="#1a1a1a" stroke="#1a1a1a" stroke-width="0.22" >0</text>
<text x="320.40" y="94.43" font-size="9.5" text-anchor="end" fill="#1a1a1a" stroke="#1a1a1a" stroke-width="0.22" >1</text>
<text x="320.40" y="68.55" font-size="9.5" text-anchor="end" fill="#1a1a1a" stroke="#1a1a1a" stroke-width="0.22" >2</text>
<text x="320.40" y="42.68" font-size="9.5" text-anchor="end" fill="#1a1a1a" stroke="#1a1a1a" stroke-width="0.22" >3</text>
<text x="320.40" y="16.80" font-size="9.5" text-anchor="end" fill="#1a1a1a" stroke="#1a1a1a" stroke-width="0.22" >4</text>
<text x="430.20" y="251.90" font-size="10.9" text-anchor="middle" fill="#1a1a1a" stroke="#1a1a1a" stroke-width="0.3" >Mole fraction,Sn</text>
<text transform="translate(304.70,118.00) rotate(-90)" x="0" y="0" font-size="10.9" text-anchor="middle" fill="#1a1a1a" stroke="#1a1a1a" stroke-width="0.3">Enthalpy of mixing, kJ/mol</text>
<text x="342.30" y="30.30" font-size="11" fill="#1a1a1a" stroke="#1a1a1a" stroke-width="0"><tspan stroke-width="0.2">(b)</tspan><tspan font-family="Liberation Serif" font-style="italic" font-size="12" dx="1.6" stroke-width="0">x</tspan><tspan font-size="6.2" dy="0.9">Ag</tspan><tspan font-size="8.2" dy="-0.9">:</tspan><tspan font-family="Liberation Serif" font-style="italic" font-size="12" dx="0.3" stroke-width="0">x</tspan><tspan font-size="6.2" dy="0.9">Cu</tspan><tspan font-size="8.2" dy="-0.9" stroke-width="0.15" letter-spacing="0.1">=3:1</tspan></text>
<g clip-path="url(#cb)">
<path d="M328.60,30.20 329.64,35.19 330.68,40.57 331.72,46.63 332.76,52.83 333.80,58.37 334.84,63.38 335.88,68.27 336.92,73.38 337.96,78.98 339.00,85.03 340.04,91.46 341.08,98.23 342.12,105.24 343.16,112.12 344.20,118.30 345.24,123.26 346.28,127.01 347.32,129.90 348.36,132.29 349.40,134.53 350.44,136.97 351.48,139.73 352.52,142.74 353.56,145.92 354.61,149.17 355.65,152.41 356.69,155.57 357.73,158.65 358.77,161.61 359.81,164.46 360.85,167.16 361.89,169.71 362.93,172.13 363.97,174.39 365.01,176.52 366.05,178.50 367.09,180.34 368.13,182.03 369.17,183.59 370.21,185.01 371.25,186.31 372.29,187.49 373.33,188.55 374.37,189.50 375.41,190.36 376.45,191.11 377.49,191.77 378.53,192.35 379.57,192.84 380.61,193.25 381.65,193.58 382.69,193.84 383.73,194.04 384.77,194.17 385.81,194.23 386.85,194.24 387.89,194.19 388.93,194.08 389.97,193.92 391.01,193.72 392.05,193.46 393.09,193.15 394.13,192.79 395.17,192.38 396.21,191.92 397.25,191.40 398.29,190.82 399.33,190.19 400.37,189.49 401.41,188.74 402.45,187.92 403.49,187.05 404.53,186.13 405.57,185.16 406.62,184.16 407.66,183.11 408.70,182.04 409.74,180.93 410.78,179.81 411.82,178.67 412.86,177.52 413.90,176.36 414.94,175.20 415.98,174.05 417.02,172.90 418.06,171.78 419.10,170.67 420.14,169.58 421.18,168.50 422.22,167.43 423.26,166.36 424.30,165.29 425.34,164.22 426.38,163.14 427.42,162.06 428.46,160.97 429.50,159.89 430.54,158.80 431.58,157.72 432.62,156.65 433.66,155.59 434.70,154.54 435.74,153.50 436.78,152.47 437.82,151.46 438.86,150.46 439.90,149.47 440.94,148.50 441.98,147.53 443.02,146.58 444.06,145.65 445.10,144.72 446.14,143.81 447.18,142.90 448.22,142.00 449.26,141.11 450.30,140.22 451.34,139.33 452.38,138.44 453.42,137.56 454.46,136.67 455.50,135.79 456.54,134.91 457.58,134.04 458.63,133.18 459.67,132.33 460.71,131.50 461.75,130.68 462.79,129.88 463.83,129.10 464.87,128.34 465.91,127.60 466.95,126.87 467.99,126.17 469.03,125.48 470.07,124.81 471.11,124.16 472.15,123.52 473.19,122.89 474.23,122.28 475.27,121.67 476.31,121.09 477.35,120.52 478.39,119.96 479.43,119.43 480.47,118.91 481.51,118.42 482.55,117.95 483.59,117.51 484.63,117.09 485.67,116.69 486.71,116.33 487.75,115.98 488.79,115.66 489.83,115.35 490.87,115.07 491.91,114.81 492.95,114.57 493.99,114.34 495.03,114.13 496.07,113.93 497.11,113.75 498.15,113.59 499.19,113.45 500.23,113.32 501.27,113.22 502.31,113.13 503.35,113.06 504.39,113.01 505.43,112.98 506.47,112.96 507.51,112.97 508.55,113.00 509.59,113.04 510.64,113.10 511.68,113.18 512.72,113.27 513.76,113.38 514.80,113.51 515.84,113.64 516.88,113.80 517.92,113.96 518.96,114.13 520.00,114.32 521.04,114.51 522.08,114.71 523.12,114.91 524.16,115.11 525.20,115.32 526.24,115.53 527.28,115.73 528.32,115.94 529.36,116.15 530.40,116.36 531.44,116.57 532.48,116.77 533.52,116.98 534.56,117.19 535.60,117.40" fill="none" stroke="#5a9ae0" stroke-width="1.2" stroke-dasharray="1 1" stroke-linecap="butt" opacity="1"/>
<path d="M328.60,30.20 329.64,35.19 330.68,40.57 331.72,46.63 332.76,52.83 333.80,58.37 334.84,63.38 335.88,68.26 336.92,73.38 337.96,78.98 339.00,85.03 340.04,91.47 341.08,98.23 342.12,105.24 343.16,112.11 344.20,118.27 345.24,123.21 346.28,126.93 347.32,129.78 348.36,132.13 349.40,134.32 350.44,136.71 351.48,139.44 352.52,142.41 353.56,145.55 354.61,148.76 355.65,151.96 356.69,155.09 357.73,158.13 358.77,161.06 359.81,163.86 360.85,166.53 361.89,169.05 362.93,171.43 363.97,173.67 365.01,175.77 366.05,177.72 367.09,179.54 368.13,181.21 369.17,182.75 370.21,184.16 371.25,185.44 372.29,186.60 373.33,187.65 374.37,188.59 375.41,189.43 376.45,190.18 377.49,190.83 378.53,191.40 379.57,191.88 380.61,192.29 381.65,192.62 382.69,192.88 383.73,193.07 384.77,193.19 385.81,193.26 386.85,193.27 387.89,193.22 388.93,193.11 389.97,192.95 391.01,192.75 392.05,192.49 393.09,192.19 394.13,191.84 395.17,191.43 396.21,190.97 397.25,190.46 398.29,189.89 399.33,189.26 400.37,188.58 401.41,187.83 402.45,187.03 403.49,186.17 404.53,185.26 405.57,184.31 406.62,183.31 407.66,182.28 408.70,181.22 409.74,180.13 410.78,179.02 411.82,177.89 412.86,176.75 413.90,175.61 414.94,174.47 415.98,173.33 417.02,172.20 418.06,171.09 419.10,169.99 420.14,168.92 421.18,167.85 422.22,166.79 423.26,165.74 424.30,164.68 425.34,163.63 426.38,162.56 427.42,161.49 428.46,160.42 429.50,159.35 430.54,158.28 431.58,157.21 432.62,156.15 433.66,155.10 434.70,154.07 435.74,153.04 436.78,152.03 437.82,151.03 438.86,150.04 439.90,149.06 440.94,148.10 441.98,147.15 443.02,146.21 444.06,145.29 445.10,144.38 446.14,143.47 447.18,142.58 448.22,141.69 449.26,140.80 450.30,139.93 451.34,139.05 452.38,138.17 453.42,137.30 454.46,136.43 455.50,135.55 456.54,134.69 457.58,133.83 458.63,132.98 459.67,132.14 460.71,131.32 461.75,130.51 462.79,129.72 463.83,128.95 464.87,128.20 465.91,127.47 466.95,126.75 467.99,126.06 469.03,125.38 470.07,124.72 471.11,124.07 472.15,123.44 473.19,122.82 474.23,122.21 475.27,121.62 476.31,121.04 477.35,120.48 478.39,119.93 479.43,119.41 480.47,118.90 481.51,118.41 482.55,117.95 483.59,117.51 484.63,117.09 485.67,116.70 486.71,116.33 487.75,115.98 488.79,115.66 489.83,115.36 490.87,115.08 491.91,114.81 492.95,114.57 493.99,114.34 495.03,114.13 496.07,113.93 497.11,113.75 498.15,113.59 499.19,113.45 500.23,113.32 501.27,113.22 502.31,113.13 503.35,113.06 504.39,113.01 505.43,112.98 506.47,112.96 507.51,112.97 508.55,113.00 509.59,113.04 510.64,113.10 511.68,113.18 512.72,113.27 513.76,113.38 514.80,113.51 515.84,113.64 516.88,113.80 517.92,113.96 518.96,114.13 520.00,114.32 521.04,114.51 522.08,114.71 523.12,114.91 524.16,115.11 525.20,115.32 526.24,115.53 527.28,115.73 528.32,115.94 529.36,116.15 530.40,116.36 531.44,116.57 532.48,116.77 533.52,116.98 534.56,117.19 535.60,117.40" fill="none" stroke="#ee5a52" stroke-width="1.1" stroke-dasharray="0 1 1 0" stroke-linecap="butt" opacity="1"/>
<path d="M328.60,30.20 329.64,35.19 330.68,40.57 331.72,46.63 332.76,52.83 333.80,58.37 334.84,63.38 335.88,68.26 336.92,73.38 337.96,78.98 339.00,85.03 340.04,91.47 341.08,98.23 342.12,105.24 343.16,112.10 344.20,118.25 345.24,123.16 346.28,126.85 347.32,129.67 348.36,131.97 349.40,134.13 350.44,136.48 351.48,139.17 352.52,142.11 353.56,145.21 354.61,148.39 355.65,151.56 356.69,154.65 357.73,157.65 358.77,160.54 359.81,163.31 360.85,165.94 361.89,168.44 362.93,170.79 363.97,173.00 365.01,175.07 366.05,177.01 367.09,178.80 368.13,180.46 369.17,181.98 370.21,183.37 371.25,184.63 372.29,185.78 373.33,186.82 374.37,187.75 375.41,188.58 376.45,189.31 377.49,189.96 378.53,190.52 379.57,191.00 380.61,191.40 381.65,191.72 382.69,191.98 383.73,192.17 384.77,192.30 385.81,192.36 386.85,192.37 387.89,192.32 388.93,192.21 389.97,192.06 391.01,191.85 392.05,191.60 393.09,191.30 394.13,190.95 395.17,190.55 396.21,190.10 397.25,189.59 398.29,189.03 399.33,188.41 400.37,187.73 401.41,187.00 402.45,186.20 403.49,185.35 404.53,184.46 405.57,183.51 406.62,182.53 407.66,181.51 408.70,180.46 409.74,179.39 410.78,178.29 411.82,177.17 412.86,176.05 413.90,174.92 414.94,173.79 415.98,172.66 417.02,171.55 418.06,170.45 419.10,169.37 420.14,168.30 421.18,167.25 422.22,166.21 423.26,165.16 424.30,164.12 425.34,163.08 426.38,162.03 427.42,160.97 428.46,159.91 429.50,158.85 430.54,157.79 431.58,156.74 432.62,155.69 433.66,154.66 434.70,153.63 435.74,152.62 436.78,151.62 437.82,150.63 438.86,149.65 439.90,148.69 440.94,147.74 441.98,146.80 443.02,145.87 444.06,144.96 445.10,144.06 446.14,143.16 447.18,142.28 448.22,141.40 449.26,140.53 450.30,139.66 451.34,138.79 452.38,137.93 453.42,137.06 454.46,136.20 455.50,135.34 456.54,134.48 457.58,133.63 458.63,132.80 459.67,131.97 460.71,131.15 461.75,130.35 462.79,129.57 463.83,128.81 464.87,128.07 465.91,127.35 466.95,126.64 467.99,125.95 469.03,125.28 470.07,124.63 471.11,123.99 472.15,123.37 473.19,122.76 474.23,122.16 475.27,121.57 476.31,121.00 477.35,120.45 478.39,119.91 479.43,119.39 480.47,118.88 481.51,118.40 482.55,117.94 483.59,117.51 484.63,117.09 485.67,116.70 486.71,116.33 487.75,115.99 488.79,115.67 489.83,115.36 490.87,115.08 491.91,114.81 492.95,114.57 493.99,114.34 495.03,114.13 496.07,113.93 497.11,113.75 498.15,113.59 499.19,113.45 500.23,113.32 501.27,113.22 502.31,113.13 503.35,113.06 504.39,113.01 505.43,112.98 506.47,112.97 507.51,112.97 508.55,113.00 509.59,113.04 510.64,113.10 511.68,113.18 512.72,113.27 513.76,113.38 514.80,113.51 515.84,113.64 516.88,113.80 517.92,113.96 518.96,114.13 520.00,114.32 521.04,114.51 522.08,114.71 523.12,114.91 524.16,115.11 525.20,115.32 526.24,115.53 527.28,115.73 528.32,115.94 529.36,116.15 530.40,116.36 531.44,116.57 532.48,116.77 533.52,116.98 534.56,117.19 535.60,117.40" fill="none" stroke="#444" stroke-width="1.1" stroke-dasharray="1 1" stroke-linecap="butt" opacity="1"/>
<path d="M328.60,30.20 329.64,38.42 330.68,46.18 331.72,53.02 332.76,58.50 333.80,62.33 334.84,64.96 335.88,66.99 336.92,69.01 337.96,71.42 339.00,74.19 340.04,77.26 341.08,80.54 342.12,83.99 343.16,87.70 344.20,91.86 345.24,96.54 346.28,101.44 347.32,106.16 348.36,110.42 349.40,114.19 350.44,117.53 351.48,120.48 352.52,123.11 353.56,125.44 354.61,127.55 355.65,129.48 356.69,131.30 357.73,133.05 358.77,134.81 359.81,136.60 360.85,138.43 361.89,140.25 362.93,142.02 363.97,143.70 365.01,145.24 366.05,146.61 367.09,147.78 368.13,148.77 369.17,149.61 370.21,150.35 371.25,151.03 372.29,151.69 373.33,152.35 374.37,153.04 375.41,153.73 376.45,154.40 377.49,155.02 378.53,155.56 379.57,156.01 380.61,156.39 381.65,156.69 382.69,156.93 383.73,157.13 384.77,157.28 385.81,157.41 386.85,157.51 387.89,157.61 388.93,157.68 389.97,157.72 391.01,157.72 392.05,157.66 393.09,157.53 394.13,157.32 395.17,157.02 396.21,156.65 397.25,156.21 398.29,155.73 399.33,155.22 400.37,154.72 401.41,154.23 402.45,153.77 403.49,153.32 404.53,152.86 405.57,152.39 406.62,151.89 407.66,151.34 408.70,150.74 409.74,150.10 410.78,149.41 411.82,148.70 412.86,147.97 413.90,147.22 414.94,146.46 415.98,145.70 417.02,144.95 418.06,144.22 419.10,143.52 420.14,142.85 421.18,142.22 422.22,141.60 423.26,141.01 424.30,140.42 425.34,139.83 426.38,139.23 427.42,138.62 428.46,137.99 429.50,137.36 430.54,136.72 431.58,136.09 432.62,135.46 433.66,134.84 434.70,134.23 435.74,133.65 436.78,133.08 437.82,132.53 438.86,132.01 439.90,131.50 440.94,130.98 441.98,130.46 443.02,129.92 444.06,129.36 445.10,128.76 446.14,128.14 447.18,127.49 448.22,126.83 449.26,126.16 450.30,125.48 451.34,124.81 452.38,124.14 453.42,123.47 454.46,122.82 455.50,122.18 456.54,121.56 457.58,120.95 458.63,120.35 459.67,119.76 460.71,119.19 461.75,118.64 462.79,118.10 463.83,117.58 464.87,117.07 465.91,116.58 466.95,116.11 467.99,115.65 469.03,115.21 470.07,114.79 471.11,114.39 472.15,114.00 473.19,113.63 474.23,113.27 475.27,112.94 476.31,112.62 477.35,112.31 478.39,112.03 479.43,111.76 480.47,111.50 481.51,111.26 482.55,111.04 483.59,110.83 484.63,110.64 485.67,110.45 486.71,110.29 487.75,110.14 488.79,110.00 489.83,109.87 490.87,109.76 491.91,109.67 492.95,109.58 493.99,109.51 495.03,109.46 496.07,109.42 497.11,109.39 498.15,109.38 499.19,109.38 500.23,109.40 501.27,109.43 502.31,109.47 503.35,109.53 504.39,109.60 505.43,109.70 506.47,109.80 507.51,109.92 508.55,110.06 509.59,110.22 510.64,110.39 511.68,110.58 512.72,110.79 513.76,111.01 514.80,111.24 515.84,111.49 516.88,111.75 517.92,112.02 518.96,112.31 520.00,112.59 521.04,112.89 522.08,113.19 523.12,113.50 524.16,113.81 525.20,114.13 526.24,114.44 527.28,114.77 528.32,115.09 529.36,115.42 530.40,115.74 531.44,116.07 532.48,116.40 533.52,116.74 534.56,117.07 535.60,117.40" fill="none" stroke="#444" stroke-width="1.0" stroke-dasharray="3.2 2.6" stroke-linecap="butt" opacity="1"/>
<path d="M328.60,30.20 329.64,34.13 330.68,38.04 331.72,41.90 332.76,45.71 333.80,49.43 334.84,53.05 335.88,56.55 336.92,59.91 337.96,63.16 339.00,66.33 340.04,69.46 341.08,72.60 342.12,75.78 343.16,78.99 344.20,82.17 345.24,85.29 346.28,88.29 347.32,91.13 348.36,93.83 349.40,96.45 350.44,99.02 351.48,101.56 352.52,104.03 353.56,106.39 354.61,108.61 355.65,110.68 356.69,112.58 357.73,114.33 358.77,115.91 359.81,117.34 360.85,118.62 361.89,119.77 362.93,120.82 363.97,121.83 365.01,122.86 366.05,123.94 367.09,125.09 368.13,126.28 369.17,127.49 370.21,128.70 371.25,129.88 372.29,131.03 373.33,132.12 374.37,133.15 375.41,134.13 376.45,135.05 377.49,135.90 378.53,136.70 379.57,137.43 380.61,138.10 381.65,138.72 382.69,139.27 383.73,139.77 384.77,140.21 385.81,140.61 386.85,140.96 387.89,141.27 388.93,141.55 389.97,141.80 391.01,142.02 392.05,142.23 393.09,142.41 394.13,142.59 395.17,142.75 396.21,142.90 397.25,143.04 398.29,143.16 399.33,143.25 400.37,143.33 401.41,143.37 402.45,143.38 403.49,143.37 404.53,143.31 405.57,143.22 406.62,143.08 407.66,142.91 408.70,142.71 409.74,142.47 410.78,142.21 411.82,141.92 412.86,141.60 413.90,141.27 414.94,140.92 415.98,140.55 417.02,140.16 418.06,139.76 419.10,139.34 420.14,138.90 421.18,138.44 422.22,137.97 423.26,137.48 424.30,136.96 425.34,136.43 426.38,135.88 427.42,135.30 428.46,134.71 429.50,134.09 430.54,133.46 431.58,132.80 432.62,132.13 433.66,131.44 434.70,130.73 435.74,130.00 436.78,129.25 437.82,128.49 438.86,127.72 439.90,126.93 440.94,126.14 441.98,125.35 443.02,124.56 444.06,123.77 445.10,123.00 446.14,122.24 447.18,121.50 448.22,120.78 449.26,120.08 450.30,119.41 451.34,118.77 452.38,118.14 453.42,117.53 454.46,116.94 455.50,116.36 456.54,115.80 457.58,115.25 458.63,114.71 459.67,114.18 460.71,113.66 461.75,113.16 462.79,112.67 463.83,112.19 464.87,111.72 465.91,111.26 466.95,110.82 467.99,110.38 469.03,109.97 470.07,109.56 471.11,109.17 472.15,108.79 473.19,108.43 474.23,108.08 475.27,107.75 476.31,107.43 477.35,107.13 478.39,106.85 479.43,106.58 480.47,106.33 481.51,106.09 482.55,105.87 483.59,105.67 484.63,105.48 485.67,105.31 486.71,105.15 487.75,105.01 488.79,104.88 489.83,104.77 490.87,104.67 491.91,104.59 492.95,104.53 493.99,104.49 495.03,104.46 496.07,104.46 497.11,104.47 498.15,104.51 499.19,104.57 500.23,104.65 501.27,104.75 502.31,104.87 503.35,105.02 504.39,105.18 505.43,105.37 506.47,105.59 507.51,105.82 508.55,106.08 509.59,106.35 510.64,106.65 511.68,106.96 512.72,107.28 513.76,107.62 514.80,107.96 515.84,108.31 516.88,108.66 517.92,109.02 518.96,109.37 520.00,109.73 521.04,110.09 522.08,110.46 523.12,110.84 524.16,111.24 525.20,111.66 526.24,112.10 527.28,112.57 528.32,113.07 529.36,113.61 530.40,114.19 531.44,114.79 532.48,115.42 533.52,116.07 534.56,116.73 535.60,117.40" fill="none" stroke="#444" stroke-width="1.0" stroke-dasharray="6 5" stroke-linecap="butt" opacity="1"/>
<path d="M328.60,47.02 329.64,52.23 330.68,57.11 331.72,61.62 332.76,65.97 333.80,70.38 334.84,74.93 335.88,79.62 336.92,84.39 337.96,89.15 339.00,93.77 340.04,98.19 341.08,102.36 342.12,106.20 343.16,109.74 344.20,112.98 345.24,115.95 346.28,118.76 347.32,121.51 348.36,124.25 349.40,126.98 350.44,129.70 351.48,132.39 352.52,135.05 353.56,137.64 354.61,140.14 355.65,142.50 356.69,144.68 357.73,146.66 358.77,148.49 359.81,150.22 360.85,151.93 361.89,153.68 362.93,155.49 363.97,157.34 365.01,159.16 366.05,160.90 367.09,162.51 368.13,163.94 369.17,165.22 370.21,166.35 371.25,167.35 372.29,168.26 373.33,169.08 374.37,169.85 375.41,170.58 376.45,171.28 377.49,171.96 378.53,172.60 379.57,173.20 380.61,173.75 381.65,174.24 382.69,174.66 383.73,175.01 384.77,175.28 385.81,175.49 386.85,175.65 387.89,175.75 388.93,175.80 389.97,175.82 391.01,175.81 392.05,175.76 393.09,175.68 394.13,175.57 395.17,175.41 396.21,175.21 397.25,174.96 398.29,174.67 399.33,174.32 400.37,173.93 401.41,173.51 402.45,173.07 403.49,172.61 404.53,172.13 405.57,171.64 406.62,171.11 407.66,170.55 408.70,169.95 409.74,169.31 410.78,168.62 411.82,167.88 412.86,167.10 413.90,166.29 414.94,165.45 415.98,164.60 417.02,163.74 418.06,162.88 419.10,162.03 420.14,161.18 421.18,160.33 422.22,159.48 423.26,158.61 424.30,157.73 425.34,156.83 426.38,155.92 427.42,154.98 428.46,154.02 429.50,153.04 430.54,152.05 431.58,151.04 432.62,150.02 433.66,148.99 434.70,147.96 435.74,146.91 436.78,145.86 437.82,144.80 438.86,143.75 439.90,142.69 440.94,141.63 441.98,140.58 443.02,139.53 444.06,138.48 445.10,137.44 446.14,136.41 447.18,135.37 448.22,134.35 449.26,133.32 450.30,132.30 451.34,131.28 452.38,130.27 453.42,129.25 454.46,128.24 455.50,127.24 456.54,126.26 457.58,125.29 458.63,124.36 459.67,123.45 460.71,122.58 461.75,121.76 462.79,120.98 463.83,120.26 464.87,119.59 465.91,118.97 466.95,118.39 467.99,117.87 469.03,117.38 470.07,116.93 471.11,116.52 472.15,116.14 473.19,115.79 474.23,115.47 475.27,115.17 476.31,114.90 477.35,114.65 478.39,114.41 479.43,114.19 480.47,113.99 481.51,113.80 482.55,113.63 483.59,113.46 484.63,113.29 485.67,113.14 486.71,112.99 487.75,112.85 488.79,112.72 489.83,112.59 490.87,112.47 491.91,112.36 492.95,112.25 493.99,112.15 495.03,112.06 496.07,111.98 497.11,111.91 498.15,111.84 499.19,111.79 500.23,111.75 501.27,111.72 502.31,111.70 503.35,111.70 504.39,111.70 505.43,111.73 506.47,111.77 507.51,111.82 508.55,111.88 509.59,111.96 510.64,112.06 511.68,112.16 512.72,112.28 513.76,112.41 514.80,112.55 515.84,112.70 516.88,112.86 517.92,113.03 518.96,113.22 520.00,113.41 521.04,113.62 522.08,113.83 523.12,114.06 524.16,114.29 525.20,114.54 526.24,114.80 527.28,115.06 528.32,115.34 529.36,115.62 530.40,115.91 531.44,116.20 532.48,116.50 533.52,116.80 534.56,117.10 535.60,117.40" fill="none" stroke="#3f7fd6" stroke-width="1.2" stroke-linecap="butt" opacity="1"/>
<path d="M328.60,47.02 329.64,52.23 330.68,57.11 331.72,61.62 332.76,65.97 333.80,70.38 334.84,74.93 335.88,79.62 336.92,84.39 337.96,89.15 339.00,93.77 340.04,98.19 341.08,102.36 342.12,106.21 343.16,109.75 344.20,112.97 345.24,115.92 346.28,118.69 347.32,121.37 348.36,124.02 349.40,126.65 350.44,129.25 351.48,131.83 352.52,134.38 353.56,136.88 354.61,139.28 355.65,141.55 356.69,143.66 357.73,145.57 358.77,147.33 359.81,149.00 360.85,150.64 361.89,152.32 362.93,154.07 363.97,155.84 365.01,157.59 366.05,159.27 367.09,160.82 368.13,162.21 369.17,163.43 370.21,164.52 371.25,165.49 372.29,166.36 373.33,167.15 374.37,167.89 375.41,168.59 376.45,169.27 377.49,169.92 378.53,170.54 379.57,171.11 380.61,171.64 381.65,172.11 382.69,172.52 383.73,172.85 384.77,173.12 385.81,173.32 386.85,173.47 387.89,173.57 388.93,173.62 389.97,173.64 391.01,173.62 392.05,173.58 393.09,173.50 394.13,173.39 395.17,173.24 396.21,173.05 397.25,172.81 398.29,172.53 399.33,172.19 400.37,171.82 401.41,171.41 402.45,170.99 403.49,170.55 404.53,170.09 405.57,169.61 406.62,169.10 407.66,168.56 408.70,167.99 409.74,167.37 410.78,166.70 411.82,165.99 412.86,165.24 413.90,164.46 414.94,163.66 415.98,162.84 417.02,162.01 418.06,161.18 419.10,160.36 420.14,159.55 421.18,158.73 422.22,157.90 423.26,157.07 424.30,156.22 425.34,155.36 426.38,154.48 427.42,153.57 428.46,152.65 429.50,151.71 430.54,150.75 431.58,149.78 432.62,148.80 433.66,147.81 434.70,146.82 435.74,145.81 436.78,144.80 437.82,143.78 438.86,142.76 439.90,141.74 440.94,140.73 441.98,139.71 443.02,138.70 444.06,137.69 445.10,136.69 446.14,135.69 447.18,134.69 448.22,133.70 449.26,132.71 450.30,131.73 451.34,130.75 452.38,129.78 453.42,128.81 454.46,127.85 455.50,126.90 456.54,125.96 457.58,125.04 458.63,124.15 459.67,123.28 460.71,122.44 461.75,121.63 462.79,120.86 463.83,120.13 464.87,119.44 465.91,118.79 466.95,118.18 467.99,117.61 469.03,117.07 470.07,116.56 471.11,116.08 472.15,115.62 473.19,115.19 474.23,114.79 475.27,114.41 476.31,114.05 477.35,113.71 478.39,113.39 479.43,113.08 480.47,112.79 481.51,112.52 482.55,112.27 483.59,112.02 484.63,111.80 485.67,111.58 486.71,111.37 487.75,111.18 488.79,111.00 489.83,110.83 490.87,110.66 491.91,110.51 492.95,110.37 493.99,110.24 495.03,110.12 496.07,110.01 497.11,109.91 498.15,109.83 499.19,109.76 500.23,109.70 501.27,109.66 502.31,109.63 503.35,109.62 504.39,109.63 505.43,109.67 506.47,109.72 507.51,109.79 508.55,109.88 509.59,109.99 510.64,110.11 511.68,110.26 512.72,110.41 513.76,110.59 514.80,110.78 515.84,110.99 516.88,111.21 517.92,111.45 518.96,111.70 520.00,111.96 521.04,112.24 522.08,112.53 523.12,112.84 524.16,113.17 525.20,113.50 526.24,113.85 527.28,114.21 528.32,114.59 529.36,114.97 530.40,115.36 531.44,115.76 532.48,116.17 533.52,116.58 534.56,116.99 535.60,117.40" fill="none" stroke="#ee5a52" stroke-width="1.2" stroke-linecap="butt" opacity="1"/>
<path d="M328.60,47.02 329.64,52.23 330.68,57.11 331.72,61.62 332.76,65.97 333.80,70.38 334.84,74.93 335.88,79.62 336.92,84.39 337.96,89.15 339.00,93.77 340.04,98.19 341.08,102.35 342.12,106.21 343.16,109.75 344.20,112.97 345.24,115.90 346.28,118.63 347.32,121.26 348.36,123.85 349.40,126.40 350.44,128.91 351.48,131.41 352.52,133.88 353.56,136.31 354.61,138.64 355.65,140.85 356.69,142.89 357.73,144.75 358.77,146.46 359.81,148.08 360.85,149.67 361.89,151.30 362.93,153.00 363.97,154.72 365.01,156.42 366.05,158.05 367.09,159.56 368.13,160.90 369.17,162.09 370.21,163.15 371.25,164.09 372.29,164.93 373.33,165.70 374.37,166.42 375.41,167.10 376.45,167.76 377.49,168.39 378.53,168.99 379.57,169.55 380.61,170.06 381.65,170.52 382.69,170.91 383.73,171.24 384.77,171.50 385.81,171.69 386.85,171.84 387.89,171.93 388.93,171.98 389.97,172.00 391.01,171.99 392.05,171.94 393.09,171.87 394.13,171.76 395.17,171.61 396.21,171.43 397.25,171.20 398.29,170.92 399.33,170.60 400.37,170.23 401.41,169.84 402.45,169.43 403.49,169.00 404.53,168.55 405.57,168.09 406.62,167.60 407.66,167.07 408.70,166.51 409.74,165.91 410.78,165.27 411.82,164.58 412.86,163.85 413.90,163.09 414.94,162.31 415.98,161.51 417.02,160.71 418.06,159.91 419.10,159.11 420.14,158.32 421.18,157.53 422.22,156.72 423.26,155.92 424.30,155.09 425.34,154.25 426.38,153.40 427.42,152.52 428.46,151.62 429.50,150.71 430.54,149.78 431.58,148.84 432.62,147.89 433.66,146.93 434.70,145.96 435.74,144.98 436.78,144.00 437.82,143.02 438.86,142.03 439.90,141.04 440.94,140.05 441.98,139.06 443.02,138.08 444.06,137.09 445.10,136.12 446.14,135.14 447.18,134.17 448.22,133.21 449.26,132.25 450.30,131.30 451.34,130.35 452.38,129.42 453.42,128.49 454.46,127.57 455.50,126.66 456.54,125.76 457.58,124.88 458.63,124.01 459.67,123.17 460.71,122.34 461.75,121.54 462.79,120.77 463.83,120.02 464.87,119.30 465.91,118.61 466.95,117.95 467.99,117.31 469.03,116.69 470.07,116.10 471.11,115.53 472.15,114.98 473.19,114.45 474.23,113.94 475.27,113.45 476.31,112.98 477.35,112.53 478.39,112.10 479.43,111.69 480.47,111.29 481.51,110.92 482.55,110.57 483.59,110.24 484.63,109.92 485.67,109.63 486.71,109.35 487.75,109.09 488.79,108.85 489.83,108.62 490.87,108.41 491.91,108.21 492.95,108.03 493.99,107.86 495.03,107.70 496.07,107.55 497.11,107.42 498.15,107.31 499.19,107.21 500.23,107.13 501.27,107.08 502.31,107.04 503.35,107.03 504.39,107.05 505.43,107.09 506.47,107.16 507.51,107.25 508.55,107.37 509.59,107.51 510.64,107.68 511.68,107.87 512.72,108.09 513.76,108.32 514.80,108.58 515.84,108.85 516.88,109.15 517.92,109.46 518.96,109.80 520.00,110.15 521.04,110.52 522.08,110.91 523.12,111.32 524.16,111.75 525.20,112.20 526.24,112.67 527.28,113.15 528.32,113.65 529.36,114.16 530.40,114.68 531.44,115.22 532.48,115.76 533.52,116.30 534.56,116.85 535.60,117.40" fill="none" stroke="#333" stroke-width="1.0" stroke-linecap="butt" opacity="1"/>
</g>
<path d="M410.16,168.35L412.44,172.39H407.88Z" fill="#fff" fill-opacity="0.85" stroke="#333" stroke-width="1.0" stroke-linejoin="round"/>
<path d="M414.19,164.59L416.47,168.63H411.92Z" fill="#fff" fill-opacity="0.85" stroke="#333" stroke-width="1.0" stroke-linejoin="round"/>
<path d="M418.23,160.44L420.51,164.48H415.95Z" fill="#fff" fill-opacity="0.85" stroke="#333" stroke-width="1.0" stroke-linejoin="round"/>
<path d="M422.27,155.67L424.55,159.71H419.99Z" fill="#fff" fill-opacity="0.85" stroke="#333" stroke-width="1.0" stroke-linejoin="round"/>
<path d="M426.30,150.85L428.58,154.89H424.02Z" fill="#fff" fill-opacity="0.85" stroke="#333" stroke-width="1.0" stroke-linejoin="round"/>
<path d="M430.34,146.62L432.62,150.66H428.06Z" fill="#fff" fill-opacity="0.85" stroke="#333" stroke-width="1.0" stroke-linejoin="round"/>
<path d="M434.38,142.70L436.66,146.74H432.10Z" fill="#fff" fill-opacity="0.85" stroke="#333" stroke-width="1.0" stroke-linejoin="round"/>
<path d="M438.41,139.11L440.69,143.15H436.13Z" fill="#fff" fill-opacity="0.85" stroke="#333" stroke-width="1.0" stroke-linejoin="round"/>
<path d="M442.45,135.92L444.73,139.96H440.17Z" fill="#fff" fill-opacity="0.85" stroke="#333" stroke-width="1.0" stroke-linejoin="round"/>
<path d="M446.49,132.93L448.77,136.97H444.21Z" fill="#fff" fill-opacity="0.85" stroke="#333" stroke-width="1.0" stroke-linejoin="round"/>
<path d="M450.52,129.90L452.80,133.94H448.24Z" fill="#fff" fill-opacity="0.85" stroke="#333" stroke-width="1.0" stroke-linejoin="round"/>
<path d="M454.56,127.13L456.84,131.17H452.28Z" fill="#fff" fill-opacity="0.85" stroke="#333" stroke-width="1.0" stroke-linejoin="round"/>
<path d="M458.60,124.91L460.88,128.96H456.32Z" fill="#fff" fill-opacity="0.85" stroke="#333" stroke-width="1.0" stroke-linejoin="round"/>
<path d="M462.63,123.04L464.91,127.08H460.35Z" fill="#fff" fill-opacity="0.85" stroke="#333" stroke-width="1.0" stroke-linejoin="round"/>
<path d="M471.22,119.71L473.50,123.75H468.94Z" fill="#fff" fill-opacity="0.85" stroke="#333" stroke-width="1.0" stroke-linejoin="round"/>
<path d="M477.02,117.12L479.30,121.16H474.74Z" fill="#fff" fill-opacity="0.85" stroke="#333" stroke-width="1.0" stroke-linejoin="round"/>
<path d="M484.06,115.57L486.34,119.61H481.78Z" fill="#fff" fill-opacity="0.85" stroke="#333" stroke-width="1.0" stroke-linejoin="round"/>
<path d="M491.51,111.95L493.79,115.99H489.23Z" fill="#fff" fill-opacity="0.85" stroke="#333" stroke-width="1.0" stroke-linejoin="round"/>
<path d="M499.38,110.65L501.65,114.69H497.10Z" fill="#fff" fill-opacity="0.85" stroke="#333" stroke-width="1.0" stroke-linejoin="round"/>
<path d="M507.45,110.91L509.73,114.95H505.17Z" fill="#fff" fill-opacity="0.85" stroke="#333" stroke-width="1.0" stroke-linejoin="round"/>
<path d="M516.35,111.69L518.63,115.73H514.07Z" fill="#fff" fill-opacity="0.85" stroke="#333" stroke-width="1.0" stroke-linejoin="round"/>
<path d="M525.25,112.46L527.53,116.50H522.97Z" fill="#fff" fill-opacity="0.85" stroke="#333" stroke-width="1.0" stroke-linejoin="round"/>
<path d="M409.95,195.96L412.90,198.91L409.95,201.86L407.00,198.91Z" fill="none" stroke="#ee5a52" stroke-width="1.0"/>
<path d="M412.23,191.30L415.18,194.25L412.23,197.20L409.28,194.25Z" fill="none" stroke="#ee5a52" stroke-width="1.0"/>
<path d="M415.33,186.12L418.28,189.07L415.33,192.02L412.38,189.07Z" fill="none" stroke="#ee5a52" stroke-width="1.0"/>
<path d="M419.06,181.21L422.01,184.16L419.06,187.11L416.11,184.16Z" fill="none" stroke="#ee5a52" stroke-width="1.0"/>
<path d="M422.79,177.07L425.74,180.02L422.79,182.97L419.84,180.02Z" fill="none" stroke="#ee5a52" stroke-width="1.0"/>
<path d="M427.34,172.15L430.29,175.10L427.34,178.05L424.39,175.10Z" fill="none" stroke="#ee5a52" stroke-width="1.0"/>
<path d="M431.89,166.98L434.84,169.93L431.89,172.88L428.94,169.93Z" fill="none" stroke="#ee5a52" stroke-width="1.0"/>
<path d="M436.45,162.58L439.40,165.53L436.45,168.48L433.50,165.53Z" fill="none" stroke="#ee5a52" stroke-width="1.0"/>
<path d="M440.59,157.66L443.54,160.61L440.59,163.56L437.64,160.61Z" fill="none" stroke="#ee5a52" stroke-width="1.0"/>
<path d="M445.14,151.67L448.09,154.62L445.14,157.57L442.19,154.62Z" fill="none" stroke="#ee5a52" stroke-width="1.0"/>
<path d="M451.56,145.06L454.51,148.01L451.56,150.96L448.61,148.01Z" fill="none" stroke="#ee5a52" stroke-width="1.0"/>
<path d="M457.98,139.48L460.93,142.43L457.98,145.38L455.03,142.43Z" fill="none" stroke="#ee5a52" stroke-width="1.0"/>
<path d="M464.39,134.69L467.34,137.64L464.39,140.59L461.44,137.64Z" fill="none" stroke="#ee5a52" stroke-width="1.0"/>
<path d="M471.22,130.23L474.17,133.18L471.22,136.13L468.27,133.18Z" fill="none" stroke="#ee5a52" stroke-width="1.0"/>
<path d="M477.02,125.84L479.97,128.79L477.02,131.74L474.07,128.79Z" fill="none" stroke="#ee5a52" stroke-width="1.0"/>
<path d="M484.06,121.95L487.01,124.90L484.06,127.85L481.11,124.90Z" fill="none" stroke="#ee5a52" stroke-width="1.0"/>
<path d="M491.51,118.85L494.46,121.80L491.51,124.75L488.56,121.80Z" fill="none" stroke="#ee5a52" stroke-width="1.0"/>
<path d="M499.38,116.26L502.32,119.21L499.38,122.16L496.43,119.21Z" fill="none" stroke="#ee5a52" stroke-width="1.0"/>
<path d="M507.45,114.97L510.40,117.92L507.45,120.87L504.50,117.92Z" fill="none" stroke="#ee5a52" stroke-width="1.0"/>
<path d="M516.35,113.67L519.30,116.62L516.35,119.57L513.40,116.62Z" fill="none" stroke="#ee5a52" stroke-width="1.0"/>
<path d="M525.25,113.67L528.20,116.62L525.25,119.57L522.30,116.62Z" fill="none" stroke="#ee5a52" stroke-width="1.0"/>
<circle cx="409.95" cy="198.91" r="2.25" fill="none" stroke="#3f7fd6" stroke-width="1.0"/><path d="M409.95,196.66V198.26" stroke="#3f7fd6" stroke-width="0.8"/>
<circle cx="412.23" cy="193.73" r="2.25" fill="none" stroke="#3f7fd6" stroke-width="1.0"/><path d="M412.23,191.48V193.08" stroke="#3f7fd6" stroke-width="0.8"/>
<circle cx="415.33" cy="188.04" r="2.25" fill="none" stroke="#3f7fd6" stroke-width="1.0"/><path d="M415.33,185.79V187.39" stroke="#3f7fd6" stroke-width="0.8"/>
<circle cx="419.06" cy="182.61" r="2.25" fill="none" stroke="#3f7fd6" stroke-width="1.0"/><path d="M419.06,180.36V181.96" stroke="#3f7fd6" stroke-width="0.8"/>
<circle cx="422.79" cy="177.95" r="2.25" fill="none" stroke="#3f7fd6" stroke-width="1.0"/><path d="M422.79,175.70V177.30" stroke="#3f7fd6" stroke-width="0.8"/>
<circle cx="427.34" cy="172.51" r="2.25" fill="none" stroke="#3f7fd6" stroke-width="1.0"/><path d="M427.34,170.26V171.86" stroke="#3f7fd6" stroke-width="0.8"/>
<circle cx="431.89" cy="167.08" r="2.25" fill="none" stroke="#3f7fd6" stroke-width="1.0"/><path d="M431.89,164.83V166.43" stroke="#3f7fd6" stroke-width="0.8"/>
<circle cx="436.45" cy="162.68" r="2.25" fill="none" stroke="#3f7fd6" stroke-width="1.0"/><path d="M436.45,160.43V162.03" stroke="#3f7fd6" stroke-width="0.8"/>
<circle cx="440.59" cy="157.51" r="2.25" fill="none" stroke="#3f7fd6" stroke-width="1.0"/><path d="M440.59,155.26V156.86" stroke="#3f7fd6" stroke-width="0.8"/>
<circle cx="445.14" cy="151.02" r="2.25" fill="none" stroke="#3f7fd6" stroke-width="1.0"/><path d="M445.14,148.77V150.37" stroke="#3f7fd6" stroke-width="0.8"/>
<circle cx="451.56" cy="144.39" r="2.25" fill="none" stroke="#3f7fd6" stroke-width="1.0"/><path d="M451.56,142.14V143.74" stroke="#3f7fd6" stroke-width="0.8"/>
<circle cx="457.98" cy="138.77" r="2.25" fill="none" stroke="#3f7fd6" stroke-width="1.0"/><path d="M457.98,136.52V138.12" stroke="#3f7fd6" stroke-width="0.8"/>
<circle cx="464.39" cy="133.64" r="2.25" fill="none" stroke="#3f7fd6" stroke-width="1.0"/><path d="M464.39,131.39V132.99" stroke="#3f7fd6" stroke-width="0.8"/>
<circle cx="471.22" cy="127.23" r="2.25" fill="none" stroke="#3f7fd6" stroke-width="1.0"/><path d="M471.22,124.98V126.58" stroke="#3f7fd6" stroke-width="0.8"/>
<circle cx="477.02" cy="123.09" r="2.25" fill="none" stroke="#3f7fd6" stroke-width="1.0"/><path d="M477.02,120.84V122.44" stroke="#3f7fd6" stroke-width="0.8"/>
<circle cx="484.06" cy="119.21" r="2.25" fill="none" stroke="#3f7fd6" stroke-width="1.0"/><path d="M484.06,116.96V118.56" stroke="#3f7fd6" stroke-width="0.8"/>
<circle cx="491.51" cy="116.62" r="2.25" fill="none" stroke="#3f7fd6" stroke-width="1.0"/><path d="M491.51,114.37V115.97" stroke="#3f7fd6" stroke-width="0.8"/>
<circle cx="499.38" cy="114.81" r="2.25" fill="none" stroke="#3f7fd6" stroke-width="1.0"/><path d="M499.38,112.56V114.16" stroke="#3f7fd6" stroke-width="0.8"/>
<circle cx="507.45" cy="114.04" r="2.25" fill="none" stroke="#3f7fd6" stroke-width="1.0"/><path d="M507.45,111.79V113.39" stroke="#3f7fd6" stroke-width="0.8"/>
<circle cx="516.35" cy="114.81" r="2.25" fill="none" stroke="#3f7fd6" stroke-width="1.0"/><path d="M516.35,112.56V114.16" stroke="#3f7fd6" stroke-width="0.8"/>
<circle cx="525.25" cy="115.85" r="2.25" fill="none" stroke="#3f7fd6" stroke-width="1.0"/><path d="M525.25,113.60V115.20" stroke="#3f7fd6" stroke-width="0.8"/>
<text x="359.00" y="64.90" font-size="7.2" text-anchor="start" fill="#1a1a1a" stroke="#1a1a1a" stroke-width="0.15" >This work</text>
<path d="M359.00,70.60H373.60" stroke="#555" stroke-width="1.0"/>
<text x="379.00" y="73.20" font-size="7.2" text-anchor="start" fill="#1a1a1a" stroke="#1a1a1a" stroke-width="0.15" >1173<tspan dx="0.9">K</tspan></text>
<path d="M359.00,79.20H373.60" stroke="#ee5a52" stroke-width="1.0"/>
<text x="379.00" y="81.80" font-size="7.2" text-anchor="start" fill="#1a1a1a" stroke="#1a1a1a" stroke-width="0.15" >973<tspan dx="0.9">K</tspan></text>
<path d="M359.00,88.00H373.60" stroke="#3f7fd6" stroke-width="1.5"/>
<text x="379.00" y="90.60" font-size="7.2" text-anchor="start" fill="#1a1a1a" stroke="#1a1a1a" stroke-width="0.15" >773<tspan dx="0.9">K</tspan></text>
<path d="M442.30,22.60L445.21,27.76H439.39Z" fill="#fff" fill-opacity="0.85" stroke="#333" stroke-width="1.0" stroke-linejoin="round"/>
<text x="448.10" y="28.40" font-size="7.3" text-anchor="start" fill="#1a1a1a" stroke="#1a1a1a" stroke-width="0.15" >Luef et al. 2004,1173<tspan dx="0.9">K</tspan></text>
<path d="M442.10,33.20L445.50,36.60L442.10,40.00L438.70,36.60Z" fill="none" stroke="#ee5a52" stroke-width="1.0"/>
<text x="448.10" y="39.30" font-size="7.3" text-anchor="start" fill="#1a1a1a" stroke="#1a1a1a" stroke-width="0.15" >Luef et al. 2004,973<tspan dx="0.9">K</tspan></text>
<circle cx="442.30" cy="47.10" r="2.8" fill="none" stroke="#3f7fd6" stroke-width="1.0"/><path d="M442.30,44.30V45.90" stroke="#3f7fd6" stroke-width="0.8"/>
<text x="448.10" y="49.70" font-size="7.3" text-anchor="start" fill="#1a1a1a" stroke="#1a1a1a" stroke-width="0.15" >Luef et al. 2004,773<tspan dx="0.9">K</tspan></text>
<text x="449.20" y="65.30" font-size="7.2" text-anchor="start" fill="#1a1a1a" stroke="#1a1a1a" stroke-width="0.15" >Moon et al. 2000</text>
<path d="M449.20,71.80H463.20" stroke="#444" stroke-width="1" stroke-dasharray="5.3 3.8"/>
<text x="468.10" y="74.40" font-size="7.2" text-anchor="start" fill="#1a1a1a" stroke="#1a1a1a" stroke-width="0.15" >1173<tspan dx="0.9">K</tspan></text>
<path d="M449.20,79.80H463.20" stroke="#f08080" stroke-width="1.2" stroke-dasharray="5.3 3.8"/>
<text x="468.10" y="82.40" font-size="7.2" text-anchor="start" fill="#1a1a1a" stroke="#1a1a1a" stroke-width="0.15" >973<tspan dx="0.9">K</tspan></text>
<path d="M449.20,88.50H463.20" stroke="#3f7fd6" stroke-width="1.0" stroke-dasharray="5.3 3.8"/>
<text x="468.10" y="91.10" font-size="7.2" text-anchor="start" fill="#1a1a1a" stroke="#1a1a1a" stroke-width="0.15" >773<tspan dx="0.9">K</tspan></text>
<text x="452.00" y="158.80" font-size="7.2" text-anchor="start" fill="#1a1a1a" stroke="#1a1a1a" stroke-width="0.15" >Ohnuma et al. 2000</text>
<path d="M452.90,164.80H467.20" stroke="#444" stroke-width="1" stroke-dasharray="2.8 2.2"/>
<text x="471.60" y="167.40" font-size="7.2" text-anchor="start" fill="#1a1a1a" stroke="#1a1a1a" stroke-width="0.15" >1173<tspan dx="0.9">K</tspan></text>
<path d="M452.90,173.00H467.20" stroke="#f08080" stroke-width="1" stroke-dasharray="2.8 2.2"/>
<text x="471.60" y="175.60" font-size="7.2" text-anchor="start" fill="#1a1a1a" stroke="#1a1a1a" stroke-width="0.15" >973<tspan dx="0.9">K</tspan></text>
<path d="M452.90,182.00H467.20" stroke="#3f7fd6" stroke-width="1.2" stroke-dasharray="2.8 2.2"/>
<text x="471.60" y="184.60" font-size="7.2" text-anchor="start" fill="#1a1a1a" stroke="#1a1a1a" stroke-width="0.15" >773<tspan dx="0.9">K</tspan></text>
<text x="452.00" y="193.80" font-size="7.2" text-anchor="start" fill="#1a1a1a" stroke="#1a1a1a" stroke-width="0.15" >Gierlotka et al. 2012</text>
<path d="M453.00,199.50H467.20" stroke="#444" stroke-width="1" stroke-dasharray="1 1"/>
<text x="471.60" y="201.80" font-size="7.2" text-anchor="start" fill="#1a1a1a" stroke="#1a1a1a" stroke-width="0.15" >1173<tspan dx="0.9">K</tspan></text>
<path d="M453.00,207.50H467.20" stroke="#f08080" stroke-width="1.2" stroke-dasharray="1 1"/>
<text x="471.60" y="209.80" font-size="7.2" text-anchor="start" fill="#1a1a1a" stroke="#1a1a1a" stroke-width="0.15" >973<tspan dx="0.9">K</tspan></text>
<path d="M453.00,216.50H467.20" stroke="#5a9ae0" stroke-width="1" stroke-dasharray="1 1"/>
<text x="471.60" y="218.60" font-size="7.2" text-anchor="start" fill="#1a1a1a" stroke="#1a1a1a" stroke-width="0.15" >773<tspan dx="0.9">K</tspan></text>
<path d="M291.40,229.80L281.40,246.70L301.50,246.70ZM291.40,233.18L298.50,245.10L284.40,245.10Z" fill="#b4b4b4" fill-rule="evenodd" stroke="#3a3a3a" stroke-width="0.7" stroke-linejoin="round"/>
<path d="M291.40,241.29L291.40,233.18M291.40,241.29L284.40,245.10M291.40,241.29L298.50,245.10" stroke="#333" stroke-width="0.8"/>
<path d="M543.4,8V256" stroke="#999" stroke-width="1"/>
<clipPath id="cc"><rect x="191.5" y="277.4" width="207.4" height="206.8"/></clipPath>
<path d="M187.20,277.40H403.20M187.20,484.20H403.20M191.50,273.10V488.50M398.90,273.10V488.50" stroke="#6a6a6a" stroke-width="1" fill="none"/>
<path d="M232.98,273.10V277.40M232.98,484.20V488.50M274.46,273.10V277.40M274.46,484.20V488.50M315.94,273.10V277.40M315.94,484.20V488.50M357.42,273.10V277.40M357.42,484.20V488.50M187.20,484.20H191.50M398.90,484.20H403.20M187.20,454.66H191.50M398.90,454.66H403.20M187.20,425.11H191.50M398.90,425.11H403.20M187.20,395.57H191.50M398.90,395.57H403.20M187.20,366.03H191.50M398.90,366.03H403.20M187.20,336.49H191.50M398.90,336.49H403.20M187.20,306.94H191.50M398.90,306.94H403.20M187.20,277.40H191.50M398.90,277.40H403.20" stroke="#6a6a6a" stroke-width="1" fill="none"/>
<text x="191.30" y="499.50" font-size="9.5" text-anchor="middle" fill="#1a1a1a" stroke="#1a1a1a" stroke-width="0.22" >0</text>
<text x="231.68" y="499.50" font-size="9.5" text-anchor="middle" fill="#1a1a1a" stroke="#1a1a1a" stroke-width="0.22" >0.2</text>
<text x="273.16" y="499.50" font-size="9.5" text-anchor="middle" fill="#1a1a1a" stroke="#1a1a1a" stroke-width="0.22" >0.4</text>
<text x="314.64" y="499.50" font-size="9.5" text-anchor="middle" fill="#1a1a1a" stroke="#1a1a1a" stroke-width="0.22" >0.6</text>
<text x="356.12" y="499.50" font-size="9.5" text-anchor="middle" fill="#1a1a1a" stroke="#1a1a1a" stroke-width="0.22" >0.8</text>
<text x="397.60" y="499.50" font-size="9.5" text-anchor="middle" fill="#1a1a1a" stroke="#1a1a1a" stroke-width="0.22" >1.0</text>
<text x="183.30" y="487.10" font-size="9.5" text-anchor="end" fill="#1a1a1a" stroke="#1a1a1a" stroke-width="0.22" >-8</text>
<text x="183.30" y="457.56" font-size="9.5" text-anchor="end" fill="#1a1a1a" stroke="#1a1a1a" stroke-width="0.22" >-6</text>
<text x="183.30" y="428.01" font-size="9.5" text-anchor="end" fill="#1a1a1a" stroke="#1a1a1a" stroke-width="0.22" >-4</text>
<text x="183.30" y="398.47" font-size="9.5" text-anchor="end" fill="#1a1a1a" stroke="#1a1a1a" stroke-width="0.22" >-2</text>
<text x="183.30" y="368.93" font-size="9.5" text-anchor="end" fill="#1a1a1a" stroke="#1a1a1a" stroke-width="0.22" >0</text>
<text x="183.30" y="339.39" font-size="9.5" text-anchor="end" fill="#1a1a1a" stroke="#1a1a1a" stroke-width="0.22" >2</text>
<text x="183.30" y="309.84" font-size="9.5" text-anchor="end" fill="#1a1a1a" stroke="#1a1a1a" stroke-width="0.22" >4</text>
<text x="183.30" y="280.30" font-size="9.5" text-anchor="end" fill="#1a1a1a" stroke="#1a1a1a" stroke-width="0.22" >6</text>
<text x="294.50" y="515.80" font-size="10.9" text-anchor="middle" fill="#1a1a1a" stroke="#1a1a1a" stroke-width="0.3" >Mole fraction,Sn</text>
<text transform="translate(167.60,381.40) rotate(-90)" x="0" y="0" font-size="10.9" text-anchor="middle" fill="#1a1a1a" stroke="#1a1a1a" stroke-width="0.3">Enthalpy of mixing, kJ/mol</text>
<text x="205.80" y="296.40" font-size="11" fill="#1a1a1a" stroke="#1a1a1a" stroke-width="0"><tspan stroke-width="0.2">(c)</tspan><tspan font-family="Liberation Serif" font-style="italic" font-size="12" dx="1.6" stroke-width="0">x</tspan><tspan font-size="6.2" dy="0.9">Ag</tspan><tspan font-size="7.8" dy="-0.9">:</tspan><tspan font-family="Liberation Serif" font-style="italic" font-size="12" dx="0.3" stroke-width="0">x</tspan><tspan font-size="6.2" dy="0.9">Cu</tspan><tspan font-size="7.8" dy="-0.9" stroke-width="0.15" letter-spacing="0.45">=1:1</tspan></text>
<g clip-path="url(#cc)">
<path d="M191.50,303.99 192.54,310.36 193.58,316.40 194.63,321.79 195.67,326.30 196.71,330.14 197.75,333.63 198.80,337.05 199.84,340.47 200.88,343.94 201.92,347.49 202.96,351.06 204.01,354.63 205.05,358.18 206.09,361.71 207.13,365.21 208.18,368.67 209.22,372.01 210.26,375.17 211.30,378.09 212.34,380.82 213.39,383.42 214.43,385.95 215.47,388.48 216.51,391.03 217.56,393.60 218.60,396.13 219.64,398.59 220.68,400.95 221.72,403.18 222.77,405.23 223.81,407.07 224.85,408.72 225.89,410.21 226.94,411.54 227.98,412.74 229.02,413.83 230.06,414.83 231.10,415.77 232.15,416.66 233.19,417.53 234.23,418.37 235.27,419.19 236.32,419.97 237.36,420.72 238.40,421.43 239.44,422.10 240.48,422.72 241.53,423.30 242.57,423.82 243.61,424.28 244.65,424.70 245.69,425.07 246.74,425.38 247.78,425.66 248.82,425.89 249.86,426.08 250.91,426.23 251.95,426.35 252.99,426.43 254.03,426.46 255.07,426.46 256.12,426.41 257.16,426.31 258.20,426.16 259.24,425.95 260.29,425.69 261.33,425.36 262.37,424.97 263.41,424.53 264.45,424.03 265.50,423.48 266.54,422.89 267.58,422.25 268.62,421.59 269.67,420.89 270.71,420.17 271.75,419.42 272.79,418.64 273.83,417.83 274.88,417.00 275.92,416.15 276.96,415.27 278.00,414.37 279.05,413.46 280.09,412.53 281.13,411.60 282.17,410.66 283.21,409.73 284.26,408.80 285.30,407.88 286.34,406.98 287.38,406.10 288.43,405.23 289.47,404.37 290.51,403.52 291.55,402.68 292.59,401.84 293.64,400.99 294.68,400.15 295.72,399.30 296.76,398.45 297.81,397.59 298.85,396.72 299.89,395.86 300.93,394.99 301.97,394.12 303.02,393.25 304.06,392.39 305.10,391.53 306.14,390.67 307.19,389.82 308.23,388.98 309.27,388.14 310.31,387.32 311.35,386.50 312.40,385.69 313.44,384.89 314.48,384.10 315.52,383.32 316.57,382.56 317.61,381.81 318.65,381.07 319.69,380.34 320.73,379.63 321.78,378.93 322.82,378.25 323.86,377.58 324.90,376.93 325.95,376.29 326.99,375.67 328.03,375.07 329.07,374.49 330.11,373.92 331.16,373.37 332.20,372.84 333.24,372.32 334.28,371.83 335.33,371.35 336.37,370.89 337.41,370.45 338.45,370.02 339.49,369.62 340.54,369.23 341.58,368.86 342.62,368.51 343.66,368.18 344.71,367.86 345.75,367.56 346.79,367.28 347.83,367.01 348.87,366.77 349.92,366.53 350.96,366.32 352.00,366.12 353.04,365.93 354.08,365.76 355.13,365.60 356.17,365.45 357.21,365.32 358.25,365.19 359.30,365.08 360.34,364.98 361.38,364.89 362.42,364.80 363.46,364.73 364.51,364.67 365.55,364.62 366.59,364.59 367.63,364.56 368.68,364.53 369.72,364.52 370.76,364.52 371.80,364.53 372.84,364.54 373.89,364.56 374.93,364.58 375.97,364.62 377.01,364.65 378.06,364.69 379.10,364.74 380.14,364.79 381.18,364.84 382.22,364.90 383.27,364.96 384.31,365.02 385.35,365.08 386.39,365.15 387.44,365.22 388.48,365.29 389.52,365.36 390.56,365.43 391.60,365.50 392.65,365.58 393.69,365.65 394.73,365.72 395.77,365.80 396.82,365.88 397.86,365.95 398.90,366.03" fill="none" stroke="#3f7fd6" stroke-width="1.2" stroke-dasharray="1 2" stroke-linecap="butt" opacity="1"/>
<path d="M191.50,303.99 192.54,310.36 193.58,316.40 194.63,321.79 195.67,326.30 196.71,330.14 197.75,333.63 198.80,337.05 199.84,340.47 200.88,343.94 201.92,347.49 202.96,351.06 204.01,354.63 205.05,358.18 206.09,361.71 207.13,365.21 208.18,368.67 209.22,372.01 210.26,375.17 211.30,378.09 212.34,380.82 213.39,383.42 214.43,385.95 215.47,388.48 216.51,391.03 217.56,393.60 218.60,396.13 219.64,398.59 220.68,400.95 221.72,403.18 222.77,405.23 223.81,407.07 224.85,408.72 225.89,410.21 226.94,411.54 227.98,412.74 229.02,413.83 230.06,414.83 231.10,415.77 232.15,416.66 233.19,417.53 234.23,418.37 235.27,419.19 236.32,419.97 237.36,420.72 238.40,421.43 239.44,422.10 240.48,422.72 241.53,423.30 242.57,423.82 243.61,424.28 244.65,424.70 245.69,425.07 246.74,425.38 247.78,425.66 248.82,425.89 249.86,426.08 250.91,426.23 251.95,426.35 252.99,426.43 254.03,426.46 255.07,426.46 256.12,426.41 257.16,426.31 258.20,426.16 259.24,425.95 260.29,425.69 261.33,425.36 262.37,424.97 263.41,424.53 264.45,424.03 265.50,423.48 266.54,422.89 267.58,422.25 268.62,421.59 269.67,420.89 270.71,420.17 271.75,419.42 272.79,418.64 273.83,417.83 274.88,417.00 275.92,416.15 276.96,415.27 278.00,414.37 279.05,413.46 280.09,412.53 281.13,411.60 282.17,410.66 283.21,409.73 284.26,408.80 285.30,407.88 286.34,406.98 287.38,406.10 288.43,405.23 289.47,404.37 290.51,403.52 291.55,402.68 292.59,401.84 293.64,400.99 294.68,400.15 295.72,399.30 296.76,398.45 297.81,397.59 298.85,396.72 299.89,395.86 300.93,394.99 301.97,394.12 303.02,393.25 304.06,392.39 305.10,391.53 306.14,390.67 307.19,389.82 308.23,388.98 309.27,388.14 310.31,387.32 311.35,386.50 312.40,385.69 313.44,384.89 314.48,384.10 315.52,383.32 316.57,382.56 317.61,381.81 318.65,381.07 319.69,380.34 320.73,379.63 321.78,378.93 322.82,378.25 323.86,377.58 324.90,376.93 325.95,376.29 326.99,375.67 328.03,375.07 329.07,374.49 330.11,373.92 331.16,373.37 332.20,372.84 333.24,372.32 334.28,371.83 335.33,371.35 336.37,370.89 337.41,370.45 338.45,370.02 339.49,369.62 340.54,369.23 341.58,368.86 342.62,368.51 343.66,368.18 344.71,367.86 345.75,367.56 346.79,367.28 347.83,367.01 348.87,366.77 349.92,366.53 350.96,366.32 352.00,366.12 353.04,365.93 354.08,365.76 355.13,365.60 356.17,365.45 357.21,365.32 358.25,365.19 359.30,365.08 360.34,364.98 361.38,364.89 362.42,364.80 363.46,364.73 364.51,364.67 365.55,364.62 366.59,364.59 367.63,364.56 368.68,364.53 369.72,364.52 370.76,364.52 371.80,364.53 372.84,364.54 373.89,364.56 374.93,364.58 375.97,364.62 377.01,364.65 378.06,364.69 379.10,364.74 380.14,364.79 381.18,364.84 382.22,364.90 383.27,364.96 384.31,365.02 385.35,365.08 386.39,365.15 387.44,365.22 388.48,365.29 389.52,365.36 390.56,365.43 391.60,365.50 392.65,365.58 393.69,365.65 394.73,365.72 395.77,365.80 396.82,365.88 397.86,365.95 398.90,366.03" fill="none" stroke="#ee5a52" stroke-width="1.2" stroke-dasharray="0 1 1 1" stroke-linecap="butt" opacity="1"/>
<path d="M191.50,303.99 192.54,310.36 193.58,316.40 194.63,321.79 195.67,326.30 196.71,330.14 197.75,333.63 198.80,337.05 199.84,340.47 200.88,343.94 201.92,347.49 202.96,351.06 204.01,354.63 205.05,358.18 206.09,361.71 207.13,365.21 208.18,368.67 209.22,372.01 210.26,375.17 211.30,378.09 212.34,380.82 213.39,383.42 214.43,385.95 215.47,388.48 216.51,391.03 217.56,393.60 218.60,396.13 219.64,398.59 220.68,400.95 221.72,403.18 222.77,405.23 223.81,407.07 224.85,408.72 225.89,410.21 226.94,411.54 227.98,412.74 229.02,413.83 230.06,414.83 231.10,415.77 232.15,416.66 233.19,417.53 234.23,418.37 235.27,419.19 236.32,419.97 237.36,420.72 238.40,421.43 239.44,422.10 240.48,422.72 241.53,423.30 242.57,423.82 243.61,424.28 244.65,424.70 245.69,425.07 246.74,425.38 247.78,425.66 248.82,425.89 249.86,426.08 250.91,426.23 251.95,426.35 252.99,426.43 254.03,426.46 255.07,426.46 256.12,426.41 257.16,426.31 258.20,426.16 259.24,425.95 260.29,425.69 261.33,425.36 262.37,424.97 263.41,424.53 264.45,424.03 265.50,423.48 266.54,422.89 267.58,422.25 268.62,421.59 269.67,420.89 270.71,420.17 271.75,419.42 272.79,418.64 273.83,417.83 274.88,417.00 275.92,416.15 276.96,415.27 278.00,414.37 279.05,413.46 280.09,412.53 281.13,411.60 282.17,410.66 283.21,409.73 284.26,408.80 285.30,407.88 286.34,406.98 287.38,406.10 288.43,405.23 289.47,404.37 290.51,403.52 291.55,402.68 292.59,401.84 293.64,400.99 294.68,400.15 295.72,399.30 296.76,398.45 297.81,397.59 298.85,396.72 299.89,395.86 300.93,394.99 301.97,394.12 303.02,393.25 304.06,392.39 305.10,391.53 306.14,390.67 307.19,389.82 308.23,388.98 309.27,388.14 310.31,387.32 311.35,386.50 312.40,385.69 313.44,384.89 314.48,384.10 315.52,383.32 316.57,382.56 317.61,381.81 318.65,381.07 319.69,380.34 320.73,379.63 321.78,378.93 322.82,378.25 323.86,377.58 324.90,376.93 325.95,376.29 326.99,375.67 328.03,375.07 329.07,374.49 330.11,373.92 331.16,373.37 332.20,372.84 333.24,372.32 334.28,371.83 335.33,371.35 336.37,370.89 337.41,370.45 338.45,370.02 339.49,369.62 340.54,369.23 341.58,368.86 342.62,368.51 343.66,368.18 344.71,367.86 345.75,367.56 346.79,367.28 347.83,367.01 348.87,366.77 349.92,366.53 350.96,366.32 352.00,366.12 353.04,365.93 354.08,365.76 355.13,365.60 356.17,365.45 357.21,365.32 358.25,365.19 359.30,365.08 360.34,364.98 361.38,364.89 362.42,364.80 363.46,364.73 364.51,364.67 365.55,364.62 366.59,364.59 367.63,364.56 368.68,364.53 369.72,364.52 370.76,364.52 371.80,364.53 372.84,364.54 373.89,364.56 374.93,364.58 375.97,364.62 377.01,364.65 378.06,364.69 379.10,364.74 380.14,364.79 381.18,364.84 382.22,364.90 383.27,364.96 384.31,365.02 385.35,365.08 386.39,365.15 387.44,365.22 388.48,365.29 389.52,365.36 390.56,365.43 391.60,365.50 392.65,365.58 393.69,365.65 394.73,365.72 395.77,365.80 396.82,365.88 397.86,365.95 398.90,366.03" fill="none" stroke="#333" stroke-width="1.2" stroke-dasharray="0 2 1 0" stroke-linecap="butt" opacity="1"/>
<path d="M191.50,315.07 192.54,316.50 193.58,317.96 194.63,319.46 195.67,321.02 196.71,322.67 197.75,324.42 198.80,326.30 199.84,328.32 200.88,330.47 201.92,332.74 202.96,335.11 204.01,337.58 205.05,340.13 206.09,342.78 207.13,345.51 208.18,348.21 209.22,350.72 210.26,352.94 211.30,354.93 212.34,356.78 213.39,358.56 214.43,360.32 215.47,362.03 216.51,363.72 217.56,365.36 218.60,366.97 219.64,368.55 220.68,370.09 221.72,371.60 222.77,373.04 223.81,374.38 224.85,375.59 225.89,376.65 226.94,377.59 227.98,378.44 229.02,379.24 230.06,380.04 231.10,380.85 232.15,381.69 233.19,382.52 234.23,383.32 235.27,384.06 236.32,384.74 237.36,385.34 238.40,385.88 239.44,386.36 240.48,386.79 241.53,387.17 242.57,387.52 243.61,387.83 244.65,388.11 245.69,388.36 246.74,388.57 247.78,388.76 248.82,388.91 249.86,389.04 250.91,389.13 251.95,389.20 252.99,389.24 254.03,389.26 255.07,389.24 256.12,389.20 257.16,389.13 258.20,389.04 259.24,388.92 260.29,388.77 261.33,388.60 262.37,388.40 263.41,388.16 264.45,387.90 265.50,387.61 266.54,387.28 267.58,386.93 268.62,386.56 269.67,386.17 270.71,385.76 271.75,385.35 272.79,384.94 273.83,384.52 274.88,384.11 275.92,383.69 276.96,383.27 278.00,382.86 279.05,382.45 280.09,382.05 281.13,381.65 282.17,381.24 283.21,380.84 284.26,380.43 285.30,380.02 286.34,379.61 287.38,379.19 288.43,378.78 289.47,378.37 290.51,377.98 291.55,377.59 292.59,377.23 293.64,376.87 294.68,376.54 295.72,376.22 296.76,375.91 297.81,375.61 298.85,375.32 299.89,375.04 300.93,374.78 301.97,374.52 303.02,374.27 304.06,374.02 305.10,373.78 306.14,373.55 307.19,373.32 308.23,373.09 309.27,372.86 310.31,372.64 311.35,372.42 312.40,372.20 313.44,371.99 314.48,371.77 315.52,371.55 316.57,371.33 317.61,371.11 318.65,370.88 319.69,370.66 320.73,370.43 321.78,370.21 322.82,369.98 323.86,369.76 324.90,369.53 325.95,369.31 326.99,369.09 328.03,368.88 329.07,368.67 330.11,368.46 331.16,368.26 332.20,368.06 333.24,367.87 334.28,367.68 335.33,367.50 336.37,367.32 337.41,367.15 338.45,366.98 339.49,366.82 340.54,366.66 341.58,366.51 342.62,366.36 343.66,366.22 344.71,366.09 345.75,365.95 346.79,365.83 347.83,365.71 348.87,365.59 349.92,365.48 350.96,365.38 352.00,365.28 353.04,365.19 354.08,365.10 355.13,365.01 356.17,364.93 357.21,364.86 358.25,364.79 359.30,364.73 360.34,364.67 361.38,364.62 362.42,364.57 363.46,364.53 364.51,364.50 365.55,364.47 366.59,364.44 367.63,364.42 368.68,364.41 369.72,364.40 370.76,364.40 371.80,364.40 372.84,364.41 373.89,364.43 374.93,364.45 375.97,364.47 377.01,364.50 378.06,364.54 379.10,364.58 380.14,364.63 381.18,364.68 382.22,364.73 383.27,364.79 384.31,364.85 385.35,364.92 386.39,364.99 387.44,365.06 388.48,365.14 389.52,365.22 390.56,365.30 391.60,365.39 392.65,365.48 393.69,365.57 394.73,365.66 395.77,365.75 396.82,365.84 397.86,365.93 398.90,366.03" fill="none" stroke="#444" stroke-width="1.0" stroke-dasharray="3.2 2.6" stroke-linecap="butt" opacity="1"/>
<path d="M191.50,303.99 192.54,305.59 193.58,307.32 194.63,309.24 195.67,311.30 196.71,313.46 197.75,315.66 198.80,317.84 199.84,319.95 200.88,321.94 201.92,323.80 202.96,325.57 204.01,327.28 205.05,328.97 206.09,330.68 207.13,332.42 208.18,334.24 209.22,336.12 210.26,338.02 211.30,339.92 212.34,341.78 213.39,343.57 214.43,345.27 215.47,346.85 216.51,348.32 217.56,349.70 218.60,351.00 219.64,352.22 220.68,353.39 221.72,354.50 222.77,355.57 223.81,356.62 224.85,357.65 225.89,358.66 226.94,359.66 227.98,360.63 229.02,361.59 230.06,362.52 231.10,363.42 232.15,364.30 233.19,365.15 234.23,365.97 235.27,366.77 236.32,367.54 237.36,368.28 238.40,368.99 239.44,369.67 240.48,370.32 241.53,370.94 242.57,371.53 243.61,372.08 244.65,372.60 245.69,373.09 246.74,373.54 247.78,373.97 248.82,374.36 249.86,374.74 250.91,375.09 251.95,375.43 252.99,375.75 254.03,376.05 255.07,376.33 256.12,376.59 257.16,376.82 258.20,377.02 259.24,377.19 260.29,377.33 261.33,377.46 262.37,377.56 263.41,377.66 264.45,377.75 265.50,377.84 266.54,377.94 267.58,378.03 268.62,378.11 269.67,378.19 270.71,378.25 271.75,378.28 272.79,378.29 273.83,378.27 274.88,378.21 275.92,378.13 276.96,378.03 278.00,377.91 279.05,377.77 280.09,377.63 281.13,377.49 282.17,377.34 283.21,377.19 284.26,377.03 285.30,376.85 286.34,376.65 287.38,376.44 288.43,376.20 289.47,375.93 290.51,375.63 291.55,375.30 292.59,374.94 293.64,374.55 294.68,374.15 295.72,373.73 296.76,373.30 297.81,372.86 298.85,372.41 299.89,371.97 300.93,371.53 301.97,371.10 303.02,370.68 304.06,370.26 305.10,369.85 306.14,369.45 307.19,369.06 308.23,368.69 309.27,368.32 310.31,367.97 311.35,367.63 312.40,367.29 313.44,366.97 314.48,366.66 315.52,366.35 316.57,366.04 317.61,365.73 318.65,365.42 319.69,365.11 320.73,364.81 321.78,364.50 322.82,364.20 323.86,363.90 324.90,363.60 325.95,363.31 326.99,363.03 328.03,362.75 329.07,362.48 330.11,362.22 331.16,361.97 332.20,361.73 333.24,361.50 334.28,361.28 335.33,361.08 336.37,360.88 337.41,360.69 338.45,360.52 339.49,360.35 340.54,360.20 341.58,360.06 342.62,359.93 343.66,359.81 344.71,359.71 345.75,359.61 346.79,359.53 347.83,359.47 348.87,359.42 349.92,359.38 350.96,359.36 352.00,359.36 353.04,359.37 354.08,359.40 355.13,359.45 356.17,359.50 357.21,359.58 358.25,359.66 359.30,359.76 360.34,359.87 361.38,360.00 362.42,360.13 363.46,360.28 364.51,360.43 365.55,360.59 366.59,360.76 367.63,360.93 368.68,361.10 369.72,361.28 370.76,361.45 371.80,361.63 372.84,361.81 373.89,361.99 374.93,362.17 375.97,362.36 377.01,362.55 378.06,362.74 379.10,362.94 380.14,363.14 381.18,363.34 382.22,363.55 383.27,363.76 384.31,363.97 385.35,364.17 386.39,364.37 387.44,364.57 388.48,364.75 389.52,364.92 390.56,365.08 391.60,365.23 392.65,365.36 393.69,365.49 394.73,365.61 395.77,365.72 396.82,365.82 397.86,365.93 398.90,366.03" fill="none" stroke="#444" stroke-width="1.0" stroke-dasharray="6 5" stroke-linecap="butt" opacity="1"/>
<path d="M191.50,303.25 192.54,307.50 193.58,311.75 194.63,315.99 195.67,320.16 196.71,324.21 197.75,328.01 198.80,331.39 199.84,334.35 200.88,337.10 201.92,339.83 202.96,342.52 204.01,345.12 205.05,347.58 206.09,349.95 207.13,352.27 208.18,354.59 209.22,356.94 210.26,359.32 211.30,361.66 212.34,363.91 213.39,366.02 214.43,367.99 215.47,369.82 216.51,371.55 217.56,373.17 218.60,374.71 219.64,376.18 220.68,377.57 221.72,378.91 222.77,380.19 223.81,381.39 224.85,382.53 225.89,383.59 226.94,384.59 227.98,385.53 229.02,386.42 230.06,387.27 231.10,388.09 232.15,388.89 233.19,389.67 234.23,390.42 235.27,391.15 236.32,391.86 237.36,392.56 238.40,393.22 239.44,393.86 240.48,394.47 241.53,395.05 242.57,395.60 243.61,396.10 244.65,396.57 245.69,397.01 246.74,397.41 247.78,397.78 248.82,398.12 249.86,398.43 250.91,398.72 251.95,398.98 252.99,399.22 254.03,399.43 255.07,399.62 256.12,399.78 257.16,399.92 258.20,400.04 259.24,400.13 260.29,400.20 261.33,400.23 262.37,400.22 263.41,400.16 264.45,400.06 265.50,399.91 266.54,399.71 267.58,399.46 268.62,399.18 269.67,398.87 270.71,398.55 271.75,398.21 272.79,397.87 273.83,397.53 274.88,397.20 275.92,396.85 276.96,396.50 278.00,396.14 279.05,395.75 280.09,395.35 281.13,394.92 282.17,394.47 283.21,393.99 284.26,393.51 285.30,393.01 286.34,392.51 287.38,392.00 288.43,391.50 289.47,391.00 290.51,390.51 291.55,390.03 292.59,389.55 293.64,389.09 294.68,388.64 295.72,388.20 296.76,387.78 297.81,387.37 298.85,386.95 299.89,386.53 300.93,386.11 301.97,385.67 303.02,385.21 304.06,384.72 305.10,384.21 306.14,383.69 307.19,383.14 308.23,382.59 309.27,382.04 310.31,381.48 311.35,380.93 312.40,380.38 313.44,379.84 314.48,379.30 315.52,378.78 316.57,378.25 317.61,377.74 318.65,377.24 319.69,376.75 320.73,376.27 321.78,375.81 322.82,375.35 323.86,374.90 324.90,374.47 325.95,374.04 326.99,373.62 328.03,373.22 329.07,372.82 330.11,372.42 331.16,372.04 332.20,371.66 333.24,371.29 334.28,370.94 335.33,370.58 336.37,370.24 337.41,369.91 338.45,369.59 339.49,369.28 340.54,368.98 341.58,368.69 342.62,368.41 343.66,368.14 344.71,367.88 345.75,367.64 346.79,367.40 347.83,367.18 348.87,366.97 349.92,366.77 350.96,366.59 352.00,366.41 353.04,366.25 354.08,366.10 355.13,365.96 356.17,365.83 357.21,365.71 358.25,365.60 359.30,365.49 360.34,365.40 361.38,365.31 362.42,365.24 363.46,365.17 364.51,365.11 365.55,365.06 366.59,365.03 367.63,365.00 368.68,364.99 369.72,364.99 370.76,365.01 371.80,365.03 372.84,365.07 373.89,365.11 374.93,365.17 375.97,365.22 377.01,365.28 378.06,365.34 379.10,365.40 380.14,365.45 381.18,365.51 382.22,365.56 383.27,365.60 384.31,365.64 385.35,365.68 386.39,365.72 387.44,365.76 388.48,365.79 389.52,365.82 390.56,365.85 391.60,365.87 392.65,365.90 393.69,365.92 394.73,365.94 395.77,365.97 396.82,365.99 397.86,366.01 398.90,366.03" fill="none" stroke="#3f7fd6" stroke-width="1.2" stroke-linecap="butt" opacity="1"/>
<path d="M191.50,303.25 192.54,307.50 193.58,311.75 194.63,315.99 195.67,320.16 196.71,324.21 197.75,328.01 198.80,331.39 199.84,334.35 200.88,337.10 201.92,339.83 202.96,342.52 204.01,345.12 205.05,347.58 206.09,349.95 207.13,352.27 208.18,354.59 209.22,356.94 210.26,359.32 211.30,361.66 212.34,363.91 213.39,366.02 214.43,367.99 215.47,369.82 216.51,371.55 217.56,373.17 218.60,374.71 219.64,376.18 220.68,377.57 221.72,378.91 222.77,380.19 223.81,381.39 224.85,382.53 225.89,383.59 226.94,384.59 227.98,385.53 229.02,386.42 230.06,387.27 231.10,388.09 232.15,388.89 233.19,389.67 234.23,390.42 235.27,391.15 236.32,391.86 237.36,392.56 238.40,393.22 239.44,393.86 240.48,394.47 241.53,395.05 242.57,395.60 243.61,396.10 244.65,396.57 245.69,397.01 246.74,397.41 247.78,397.78 248.82,398.12 249.86,398.43 250.91,398.72 251.95,398.98 252.99,399.22 254.03,399.43 255.07,399.62 256.12,399.78 257.16,399.92 258.20,400.04 259.24,400.13 260.29,400.20 261.33,400.23 262.37,400.22 263.41,400.16 264.45,400.06 265.50,399.91 266.54,399.71 267.58,399.46 268.62,399.18 269.67,398.87 270.71,398.55 271.75,398.21 272.79,397.87 273.83,397.53 274.88,397.20 275.92,396.85 276.96,396.50 278.00,396.14 279.05,395.75 280.09,395.35 281.13,394.92 282.17,394.47 283.21,393.99 284.26,393.51 285.30,393.01 286.34,392.51 287.38,392.00 288.43,391.50 289.47,391.00 290.51,390.51 291.55,390.03 292.59,389.55 293.64,389.09 294.68,388.64 295.72,388.20 296.76,387.78 297.81,387.37 298.85,386.95 299.89,386.53 300.93,386.11 301.97,385.67 303.02,385.21 304.06,384.72 305.10,384.21 306.14,383.69 307.19,383.14 308.23,382.59 309.27,382.04 310.31,381.48 311.35,380.93 312.40,380.38 313.44,379.84 314.48,379.30 315.52,378.78 316.57,378.25 317.61,377.74 318.65,377.24 319.69,376.75 320.73,376.27 321.78,375.81 322.82,375.35 323.86,374.90 324.90,374.47 325.95,374.04 326.99,373.62 328.03,373.22 329.07,372.82 330.11,372.42 331.16,372.04 332.20,371.66 333.24,371.29 334.28,370.94 335.33,370.58 336.37,370.24 337.41,369.91 338.45,369.59 339.49,369.28 340.54,368.98 341.58,368.69 342.62,368.41 343.66,368.14 344.71,367.88 345.75,367.64 346.79,367.40 347.83,367.18 348.87,366.97 349.92,366.77 350.96,366.59 352.00,366.41 353.04,366.25 354.08,366.10 355.13,365.96 356.17,365.83 357.21,365.71 358.25,365.60 359.30,365.49 360.34,365.40 361.38,365.31 362.42,365.24 363.46,365.17 364.51,365.11 365.55,365.06 366.59,365.03 367.63,365.00 368.68,364.99 369.72,364.99 370.76,365.01 371.80,365.03 372.84,365.07 373.89,365.11 374.93,365.17 375.97,365.22 377.01,365.28 378.06,365.34 379.10,365.40 380.14,365.45 381.18,365.51 382.22,365.56 383.27,365.60 384.31,365.64 385.35,365.68 386.39,365.72 387.44,365.76 388.48,365.79 389.52,365.82 390.56,365.85 391.60,365.87 392.65,365.90 393.69,365.92 394.73,365.94 395.77,365.97 396.82,365.99 397.86,366.01 398.90,366.03" fill="none" stroke="#ee5a52" stroke-width="1.6" stroke-linecap="butt" opacity="0.8"/>
<path d="M191.50,303.25 192.54,307.50 193.58,311.75 194.63,315.99 195.67,320.16 196.71,324.21 197.75,328.01 198.80,331.39 199.84,334.35 200.88,337.10 201.92,339.83 202.96,342.52 204.01,345.12 205.05,347.58 206.09,349.95 207.13,352.27 208.18,354.59 209.22,356.94 210.26,359.32 211.30,361.66 212.34,363.91 213.39,366.02 214.43,367.99 215.47,369.82 216.51,371.55 217.56,373.17 218.60,374.71 219.64,376.18 220.68,377.57 221.72,378.91 222.77,380.19 223.81,381.39 224.85,382.53 225.89,383.59 226.94,384.59 227.98,385.53 229.02,386.42 230.06,387.27 231.10,388.09 232.15,388.89 233.19,389.67 234.23,390.42 235.27,391.15 236.32,391.86 237.36,392.56 238.40,393.22 239.44,393.86 240.48,394.47 241.53,395.05 242.57,395.60 243.61,396.10 244.65,396.57 245.69,397.01 246.74,397.41 247.78,397.78 248.82,398.12 249.86,398.43 250.91,398.72 251.95,398.98 252.99,399.22 254.03,399.43 255.07,399.62 256.12,399.78 257.16,399.92 258.20,400.04 259.24,400.13 260.29,400.20 261.33,400.23 262.37,400.22 263.41,400.16 264.45,400.06 265.50,399.91 266.54,399.71 267.58,399.46 268.62,399.18 269.67,398.87 270.71,398.55 271.75,398.21 272.79,397.87 273.83,397.53 274.88,397.20 275.92,396.85 276.96,396.50 278.00,396.14 279.05,395.75 280.09,395.35 281.13,394.92 282.17,394.47 283.21,393.99 284.26,393.51 285.30,393.01 286.34,392.51 287.38,392.00 288.43,391.50 289.47,391.00 290.51,390.51 291.55,390.03 292.59,389.55 293.64,389.09 294.68,388.64 295.72,388.20 296.76,387.78 297.81,387.37 298.85,386.95 299.89,386.53 300.93,386.11 301.97,385.67 303.02,385.21 304.06,384.72 305.10,384.21 306.14,383.69 307.19,383.14 308.23,382.59 309.27,382.04 310.31,381.48 311.35,380.93 312.40,380.38 313.44,379.84 314.48,379.30 315.52,378.78 316.57,378.25 317.61,377.74 318.65,377.24 319.69,376.75 320.73,376.27 321.78,375.81 322.82,375.35 323.86,374.90 324.90,374.47 325.95,374.04 326.99,373.62 328.03,373.22 329.07,372.82 330.11,372.42 331.16,372.04 332.20,371.66 333.24,371.29 334.28,370.94 335.33,370.58 336.37,370.24 337.41,369.91 338.45,369.59 339.49,369.28 340.54,368.98 341.58,368.69 342.62,368.41 343.66,368.14 344.71,367.88 345.75,367.64 346.79,367.40 347.83,367.18 348.87,366.97 349.92,366.77 350.96,366.59 352.00,366.41 353.04,366.25 354.08,366.10 355.13,365.96 356.17,365.83 357.21,365.71 358.25,365.60 359.30,365.49 360.34,365.40 361.38,365.31 362.42,365.24 363.46,365.17 364.51,365.11 365.55,365.06 366.59,365.03 367.63,365.00 368.68,364.99 369.72,364.99 370.76,365.01 371.80,365.03 372.84,365.07 373.89,365.11 374.93,365.17 375.97,365.22 377.01,365.28 378.06,365.34 379.10,365.40 380.14,365.45 381.18,365.51 382.22,365.56 383.27,365.60 384.31,365.64 385.35,365.68 386.39,365.72 387.44,365.76 388.48,365.79 389.52,365.82 390.56,365.85 391.60,365.87 392.65,365.90 393.69,365.92 394.73,365.94 395.77,365.97 396.82,365.99 397.86,366.01 398.90,366.03" fill="none" stroke="#5a1a2a" stroke-width="0.9" stroke-linecap="butt" opacity="0.8"/>
</g>
<path d="M266.16,400.61L268.44,404.65H263.88Z" fill="#fff" fill-opacity="0.85" stroke="#333" stroke-width="1.0" stroke-linejoin="round"/>
<path d="M267.41,398.07L269.69,402.11H265.13Z" fill="#fff" fill-opacity="0.85" stroke="#333" stroke-width="1.0" stroke-linejoin="round"/>
<path d="M269.27,395.53L271.55,399.57H267.00Z" fill="#fff" fill-opacity="0.85" stroke="#333" stroke-width="1.0" stroke-linejoin="round"/>
<path d="M272.80,392.93L275.08,396.97H270.52Z" fill="#fff" fill-opacity="0.85" stroke="#333" stroke-width="1.0" stroke-linejoin="round"/>
<path d="M276.74,390.41L279.02,394.46H274.46Z" fill="#fff" fill-opacity="0.85" stroke="#333" stroke-width="1.0" stroke-linejoin="round"/>
<path d="M280.68,388.49L282.96,392.54H278.40Z" fill="#fff" fill-opacity="0.85" stroke="#333" stroke-width="1.0" stroke-linejoin="round"/>
<path d="M284.83,386.13L287.11,390.17H282.55Z" fill="#fff" fill-opacity="0.85" stroke="#333" stroke-width="1.0" stroke-linejoin="round"/>
<path d="M289.39,383.92L291.67,387.96H287.11Z" fill="#fff" fill-opacity="0.85" stroke="#333" stroke-width="1.0" stroke-linejoin="round"/>
<path d="M293.96,381.70L296.24,385.74H291.68Z" fill="#fff" fill-opacity="0.85" stroke="#333" stroke-width="1.0" stroke-linejoin="round"/>
<path d="M298.93,379.63L301.21,383.67H296.65Z" fill="#fff" fill-opacity="0.85" stroke="#333" stroke-width="1.0" stroke-linejoin="round"/>
<path d="M303.91,378.15L306.19,382.20H301.63Z" fill="#fff" fill-opacity="0.85" stroke="#333" stroke-width="1.0" stroke-linejoin="round"/>
<path d="M309.93,375.64L312.20,379.69H307.65Z" fill="#fff" fill-opacity="0.85" stroke="#333" stroke-width="1.0" stroke-linejoin="round"/>
<path d="M314.90,373.72L317.18,377.77H312.62Z" fill="#fff" fill-opacity="0.85" stroke="#333" stroke-width="1.0" stroke-linejoin="round"/>
<path d="M320.92,371.06L323.20,375.11H318.64Z" fill="#fff" fill-opacity="0.85" stroke="#333" stroke-width="1.0" stroke-linejoin="round"/>
<path d="M327.97,368.85L330.25,372.89H325.69Z" fill="#fff" fill-opacity="0.85" stroke="#333" stroke-width="1.0" stroke-linejoin="round"/>
<path d="M335.02,366.34L337.30,370.38H332.74Z" fill="#fff" fill-opacity="0.85" stroke="#333" stroke-width="1.0" stroke-linejoin="round"/>
<path d="M342.90,364.71L345.18,368.75H340.62Z" fill="#fff" fill-opacity="0.85" stroke="#333" stroke-width="1.0" stroke-linejoin="round"/>
<path d="M350.99,363.68L353.27,367.72H348.71Z" fill="#fff" fill-opacity="0.85" stroke="#333" stroke-width="1.0" stroke-linejoin="round"/>
<path d="M359.91,362.64L362.19,366.69H357.63Z" fill="#fff" fill-opacity="0.85" stroke="#333" stroke-width="1.0" stroke-linejoin="round"/>
<path d="M369.03,361.91L371.31,365.95H366.75Z" fill="#fff" fill-opacity="0.85" stroke="#333" stroke-width="1.0" stroke-linejoin="round"/>
<path d="M378.16,362.05L380.44,366.10H375.88Z" fill="#fff" fill-opacity="0.85" stroke="#333" stroke-width="1.0" stroke-linejoin="round"/>
<path d="M388.12,363.24L390.39,367.28H385.84Z" fill="#fff" fill-opacity="0.85" stroke="#333" stroke-width="1.0" stroke-linejoin="round"/>
<path d="M265.75,418.62L268.70,421.57L265.75,424.52L262.80,421.57Z" fill="none" stroke="#ee5a52" stroke-width="1.0"/>
<path d="M269.38,415.64L272.33,418.59L269.38,421.54L266.43,418.59Z" fill="none" stroke="#ee5a52" stroke-width="1.0"/>
<path d="M273.01,412.68L275.96,415.63L273.01,418.58L270.06,415.63Z" fill="none" stroke="#ee5a52" stroke-width="1.0"/>
<path d="M276.64,409.73L279.59,412.68L276.64,415.63L273.69,412.68Z" fill="none" stroke="#ee5a52" stroke-width="1.0"/>
<path d="M280.27,406.77L283.22,409.72L280.27,412.67L277.32,409.72Z" fill="none" stroke="#ee5a52" stroke-width="1.0"/>
<path d="M283.90,403.67L286.85,406.62L283.90,409.57L280.95,406.62Z" fill="none" stroke="#ee5a52" stroke-width="1.0"/>
<path d="M287.53,400.52L290.48,403.47L287.53,406.42L284.58,403.47Z" fill="none" stroke="#ee5a52" stroke-width="1.0"/>
<path d="M291.16,397.44L294.11,400.39L291.16,403.34L288.21,400.39Z" fill="none" stroke="#ee5a52" stroke-width="1.0"/>
<path d="M294.79,394.56L297.74,397.51L294.79,400.46L291.84,397.51Z" fill="none" stroke="#ee5a52" stroke-width="1.0"/>
<path d="M298.41,391.98L301.36,394.93L298.41,397.88L295.46,394.93Z" fill="none" stroke="#ee5a52" stroke-width="1.0"/>
<path d="M302.04,389.82L304.99,392.77L302.04,395.72L299.09,392.77Z" fill="none" stroke="#ee5a52" stroke-width="1.0"/>
<path d="M305.67,388.01L308.62,390.96L305.67,393.91L302.72,390.96Z" fill="none" stroke="#ee5a52" stroke-width="1.0"/>
<path d="M309.30,386.28L312.25,389.23L309.30,392.18L306.35,389.23Z" fill="none" stroke="#ee5a52" stroke-width="1.0"/>
<path d="M312.93,384.45L315.88,387.40L312.93,390.35L309.98,387.40Z" fill="none" stroke="#ee5a52" stroke-width="1.0"/>
<path d="M320.92,380.51L323.87,383.46L320.92,386.41L317.97,383.46Z" fill="none" stroke="#ee5a52" stroke-width="1.0"/>
<path d="M327.97,377.41L330.92,380.36L327.97,383.31L325.02,380.36Z" fill="none" stroke="#ee5a52" stroke-width="1.0"/>
<path d="M335.02,374.60L337.97,377.55L335.02,380.50L332.07,377.55Z" fill="none" stroke="#ee5a52" stroke-width="1.0"/>
<path d="M342.90,371.77L345.85,374.72L342.90,377.67L339.95,374.72Z" fill="none" stroke="#ee5a52" stroke-width="1.0"/>
<path d="M350.99,369.28L353.94,372.23L350.99,375.18L348.04,372.23Z" fill="none" stroke="#ee5a52" stroke-width="1.0"/>
<path d="M359.91,367.21L362.86,370.16L359.91,373.11L356.96,370.16Z" fill="none" stroke="#ee5a52" stroke-width="1.0"/>
<path d="M369.03,365.59L371.98,368.54L369.03,371.49L366.08,368.54Z" fill="none" stroke="#ee5a52" stroke-width="1.0"/>
<path d="M378.16,364.26L381.11,367.21L378.16,370.16L375.21,367.21Z" fill="none" stroke="#ee5a52" stroke-width="1.0"/>
<path d="M388.12,363.37L391.07,366.32L388.12,369.27L385.17,366.32Z" fill="none" stroke="#ee5a52" stroke-width="1.0"/>
<circle cx="266.79" cy="449.19" r="2.25" fill="none" stroke="#3f7fd6" stroke-width="1.0"/><path d="M266.79,446.94V448.54" stroke="#3f7fd6" stroke-width="0.8"/>
<circle cx="270.73" cy="442.54" r="2.25" fill="none" stroke="#3f7fd6" stroke-width="1.0"/><path d="M270.73,440.29V441.89" stroke="#3f7fd6" stroke-width="0.8"/>
<circle cx="273.63" cy="435.75" r="2.25" fill="none" stroke="#3f7fd6" stroke-width="1.0"/><path d="M273.63,433.50V435.10" stroke="#3f7fd6" stroke-width="0.8"/>
<circle cx="277.36" cy="428.07" r="2.25" fill="none" stroke="#3f7fd6" stroke-width="1.0"/><path d="M277.36,425.82V427.42" stroke="#3f7fd6" stroke-width="0.8"/>
<circle cx="281.10" cy="420.54" r="2.25" fill="none" stroke="#3f7fd6" stroke-width="1.0"/><path d="M281.10,418.29V419.89" stroke="#3f7fd6" stroke-width="0.8"/>
<circle cx="285.04" cy="413.00" r="2.25" fill="none" stroke="#3f7fd6" stroke-width="1.0"/><path d="M285.04,410.75V412.35" stroke="#3f7fd6" stroke-width="0.8"/>
<circle cx="289.81" cy="406.35" r="2.25" fill="none" stroke="#3f7fd6" stroke-width="1.0"/><path d="M289.81,404.10V405.70" stroke="#3f7fd6" stroke-width="0.8"/>
<circle cx="295.20" cy="400.00" r="2.25" fill="none" stroke="#3f7fd6" stroke-width="1.0"/><path d="M295.20,397.75V399.35" stroke="#3f7fd6" stroke-width="0.8"/>
<circle cx="299.97" cy="394.98" r="2.25" fill="none" stroke="#3f7fd6" stroke-width="1.0"/><path d="M299.97,392.73V394.33" stroke="#3f7fd6" stroke-width="0.8"/>
<circle cx="304.95" cy="390.99" r="2.25" fill="none" stroke="#3f7fd6" stroke-width="1.0"/><path d="M304.95,388.74V390.34" stroke="#3f7fd6" stroke-width="0.8"/>
<circle cx="309.93" cy="388.04" r="2.25" fill="none" stroke="#3f7fd6" stroke-width="1.0"/><path d="M309.93,385.79V387.39" stroke="#3f7fd6" stroke-width="0.8"/>
<circle cx="314.90" cy="385.08" r="2.25" fill="none" stroke="#3f7fd6" stroke-width="1.0"/><path d="M314.90,382.83V384.43" stroke="#3f7fd6" stroke-width="0.8"/>
<circle cx="320.92" cy="381.98" r="2.25" fill="none" stroke="#3f7fd6" stroke-width="1.0"/><path d="M320.92,379.73V381.33" stroke="#3f7fd6" stroke-width="0.8"/>
<circle cx="327.97" cy="379.03" r="2.25" fill="none" stroke="#3f7fd6" stroke-width="1.0"/><path d="M327.97,376.78V378.38" stroke="#3f7fd6" stroke-width="0.8"/>
<circle cx="335.02" cy="376.07" r="2.25" fill="none" stroke="#3f7fd6" stroke-width="1.0"/><path d="M335.02,373.82V375.42" stroke="#3f7fd6" stroke-width="0.8"/>
<circle cx="342.90" cy="372.97" r="2.25" fill="none" stroke="#3f7fd6" stroke-width="1.0"/><path d="M342.90,370.72V372.32" stroke="#3f7fd6" stroke-width="0.8"/>
<circle cx="350.99" cy="371.05" r="2.25" fill="none" stroke="#3f7fd6" stroke-width="1.0"/><path d="M350.99,368.80V370.40" stroke="#3f7fd6" stroke-width="0.8"/>
<circle cx="359.91" cy="368.98" r="2.25" fill="none" stroke="#3f7fd6" stroke-width="1.0"/><path d="M359.91,366.73V368.33" stroke="#3f7fd6" stroke-width="0.8"/>
<circle cx="369.03" cy="367.65" r="2.25" fill="none" stroke="#3f7fd6" stroke-width="1.0"/><path d="M369.03,365.40V367.00" stroke="#3f7fd6" stroke-width="0.8"/>
<circle cx="378.16" cy="366.62" r="2.25" fill="none" stroke="#3f7fd6" stroke-width="1.0"/><path d="M378.16,364.37V365.97" stroke="#3f7fd6" stroke-width="0.8"/>
<circle cx="388.12" cy="366.03" r="2.25" fill="none" stroke="#3f7fd6" stroke-width="1.0"/><path d="M388.12,363.78V365.38" stroke="#3f7fd6" stroke-width="0.8"/>
<text x="224.00" y="327.40" font-size="7.2" text-anchor="start" fill="#1a1a1a" stroke="#1a1a1a" stroke-width="0.15" >This work</text>
<path d="M224.00,333.00H239.20" stroke="#444" stroke-width="1.0"/>
<text x="244.10" y="335.60" font-size="7.2" text-anchor="start" fill="#1a1a1a" stroke="#1a1a1a" stroke-width="0.15" >1173<tspan dx="0.9">K</tspan></text>
<path d="M224.00,341.90H239.20" stroke="#ee5a52" stroke-width="2.0"/>
<text x="244.10" y="344.50" font-size="7.2" text-anchor="start" fill="#1a1a1a" stroke="#1a1a1a" stroke-width="0.15" >973<tspan dx="0.9">K</tspan></text>
<path d="M224.00,350.70H239.20" stroke="#5a9ae0" stroke-width="1.0"/>
<text x="244.10" y="353.30" font-size="7.2" text-anchor="start" fill="#1a1a1a" stroke="#1a1a1a" stroke-width="0.15" >773<tspan dx="0.9">K</tspan></text>
<path d="M306.90,287.90L309.81,293.06H303.99Z" fill="#fff" fill-opacity="0.85" stroke="#333" stroke-width="1.0" stroke-linejoin="round"/>
<text x="312.70" y="293.70" font-size="7.3" text-anchor="start" fill="#1a1a1a" stroke="#1a1a1a" stroke-width="0.15" >Luef et al. 2004,1173<tspan dx="0.9">K</tspan></text>
<path d="M306.70,298.60L310.10,302.00L306.70,305.40L303.30,302.00Z" fill="none" stroke="#ee5a52" stroke-width="1.0"/>
<text x="312.70" y="304.60" font-size="7.3" text-anchor="start" fill="#1a1a1a" stroke="#1a1a1a" stroke-width="0.15" >Luef et al. 2004,973<tspan dx="0.9">K</tspan></text>
<circle cx="306.90" cy="312.50" r="2.8" fill="none" stroke="#3f7fd6" stroke-width="1.0"/><path d="M306.90,309.70V311.30" stroke="#3f7fd6" stroke-width="0.8"/>
<text x="312.70" y="315.10" font-size="7.3" text-anchor="start" fill="#1a1a1a" stroke="#1a1a1a" stroke-width="0.15" >Luef et al. 2004,773<tspan dx="0.9">K</tspan></text>
<text x="313.10" y="327.50" font-size="7.2" text-anchor="start" fill="#1a1a1a" stroke="#1a1a1a" stroke-width="0.15" >Moon et al. 2000</text>
<path d="M313.10,332.90H328.20" stroke="#333" stroke-width="1" stroke-dasharray="5.3 3.8"/>
<text x="332.70" y="335.50" font-size="7.2" text-anchor="start" fill="#1a1a1a" stroke="#1a1a1a" stroke-width="0.15" >1173<tspan dx="0.9">K</tspan></text>
<path d="M313.10,341.60H328.20" stroke="#f08080" stroke-width="1.0" stroke-dasharray="5.3 3.8"/>
<text x="332.70" y="344.20" font-size="7.2" text-anchor="start" fill="#1a1a1a" stroke="#1a1a1a" stroke-width="0.15" >973<tspan dx="0.9">K</tspan></text>
<path d="M313.10,350.40H328.20" stroke="#5a9ae0" stroke-width="1.0" stroke-dasharray="5.3 3.8"/>
<text x="332.70" y="353.00" font-size="7.2" text-anchor="start" fill="#1a1a1a" stroke="#1a1a1a" stroke-width="0.15" >773<tspan dx="0.9">K</tspan></text>
<text x="314.20" y="411.70" font-size="7.2" text-anchor="start" fill="#1a1a1a" stroke="#1a1a1a" stroke-width="0.15" >Ohnuma et al. 2000</text>
<path d="M315.50,418.20H329.10" stroke="#444" stroke-width="1" stroke-dasharray="2.8 2.2"/>
<text x="333.60" y="420.80" font-size="7.2" text-anchor="start" fill="#1a1a1a" stroke="#1a1a1a" stroke-width="0.15" >1173<tspan dx="0.9">K</tspan></text>
<path d="M315.50,426.70H329.10" stroke="#f08080" stroke-width="1" stroke-dasharray="2.8 2.2"/>
<text x="333.60" y="429.30" font-size="7.2" text-anchor="start" fill="#1a1a1a" stroke="#1a1a1a" stroke-width="0.15" >973<tspan dx="0.9">K</tspan></text>
<path d="M315.50,435.50H329.10" stroke="#5a9ae0" stroke-width="1" stroke-dasharray="2.8 2.2"/>
<text x="333.60" y="438.10" font-size="7.2" text-anchor="start" fill="#1a1a1a" stroke="#1a1a1a" stroke-width="0.15" >773<tspan dx="0.9">K</tspan></text>
<text x="314.20" y="446.60" font-size="7.2" text-anchor="start" fill="#1a1a1a" stroke="#1a1a1a" stroke-width="0.15" >Gierlotka et al. 2012</text>
<path d="M316.00,452.50H329.10" stroke="#666" stroke-width="0.8" stroke-dasharray="1 1"/>
<text x="333.60" y="455.30" font-size="7.2" text-anchor="start" fill="#1a1a1a" stroke="#1a1a1a" stroke-width="0.15" >1173<tspan dx="0.9">K</tspan></text>
<path d="M316.00,460.50H329.10" stroke="#f08080" stroke-width="1.2" stroke-dasharray="1 1"/>
<text x="333.60" y="463.50" font-size="7.2" text-anchor="start" fill="#1a1a1a" stroke="#1a1a1a" stroke-width="0.15" >973<tspan dx="0.9">K</tspan></text>
<path d="M316.00,469.50H329.10" stroke="#3f7fd6" stroke-width="1" stroke-dasharray="1 1"/>
<text x="333.60" y="471.70" font-size="7.2" text-anchor="start" fill="#1a1a1a" stroke="#1a1a1a" stroke-width="0.15" >773<tspan dx="0.9">K</tspan></text>
<path d="M154.60,491.60L144.40,508.60L165.20,508.60ZM154.60,495.00L162.20,507.00L147.40,507.00Z" fill="#b4b4b4" fill-rule="evenodd" stroke="#3a3a3a" stroke-width="0.7" stroke-linejoin="round"/>
<path d="M154.60,503.16L154.60,495.00M154.60,503.16L147.40,507.00M154.60,503.16L162.20,507.00" stroke="#333" stroke-width="0.8"/>
<path d="M406.5,272.3V519.4M144,519.4H406.5" stroke="#999" stroke-width="1"/>
</svg>
</body></html>
